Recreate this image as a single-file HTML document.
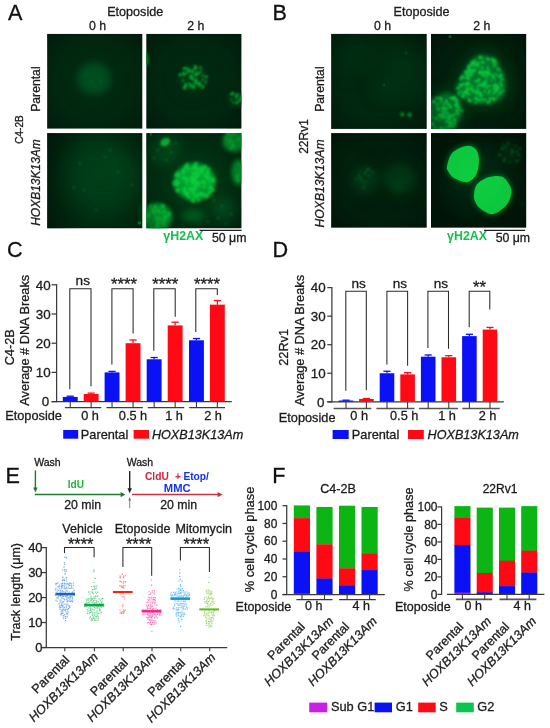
<!DOCTYPE html>
<html lang="en"><head><meta charset="utf-8"><title>Figure</title>
<style>
html,body{margin:0;padding:0;background:#fff;}
#fig{position:relative;width:550px;height:728px;background:#fff;overflow:hidden;}
svg{display:block;}
svg text{font-family:"Liberation Sans", sans-serif;}
</style></head><body>
<div id="fig">
<svg width="550" height="728" viewBox="0 0 550 728">
<defs>
<filter id="b1" x="-50%" y="-50%" width="200%" height="200%"><feGaussianBlur stdDeviation="1"/></filter>
<filter id="b05" x="-50%" y="-50%" width="200%" height="200%"><feGaussianBlur stdDeviation="0.6"/></filter>
<filter id="b2" x="-50%" y="-50%" width="200%" height="200%"><feGaussianBlur stdDeviation="2"/></filter>
<filter id="b3" x="-50%" y="-50%" width="200%" height="200%"><feGaussianBlur stdDeviation="3.5"/></filter>
<filter id="b6" x="-50%" y="-50%" width="200%" height="200%"><feGaussianBlur stdDeviation="6"/></filter>
<filter id="b10" x="-50%" y="-50%" width="200%" height="200%"><feGaussianBlur stdDeviation="10"/></filter>
<radialGradient id="vig" cx="50%" cy="50%" r="72%"><stop offset="0" stop-color="#000" stop-opacity="0"/><stop offset="0.55" stop-color="#000" stop-opacity="0.04"/><stop offset="1" stop-color="#000" stop-opacity="0.34"/></radialGradient>
<linearGradient id="ldark" x1="0" x2="1" y1="0" y2="0"><stop offset="0" stop-color="#000" stop-opacity="0.3"/><stop offset="1" stop-color="#000" stop-opacity="0"/></linearGradient>
</defs>
<g id="panelA">
<text x="8.00" y="19.90" font-size="21.6" fill="#111" stroke="#111" stroke-width="0.3" >A</text>
<text x="135.20" y="15.80" font-size="12.6" text-anchor="middle" fill="#1c1c1c" stroke="#1c1c1c" stroke-width="0.3" >Etoposide</text>
<text x="97.50" y="29.60" font-size="12.3" text-anchor="middle" fill="#1c1c1c" stroke="#1c1c1c" stroke-width="0.3" >0 h</text>
<text x="195.70" y="29.60" font-size="12.3" text-anchor="middle" fill="#1c1c1c" stroke="#1c1c1c" stroke-width="0.3" >2 h</text>
<text x="39.60" y="89.10" font-size="12.2" text-anchor="middle" fill="#1c1c1c" stroke="#1c1c1c" stroke-width="0.3" transform="rotate(-90 39.60 89.10)" >Parental</text>
<text x="39.60" y="182.50" font-size="12" text-anchor="middle" font-style="italic" fill="#1c1c1c" stroke="#1c1c1c" stroke-width="0.3" transform="rotate(-90 39.60 182.50)" >HOXB13K13Am</text>
<text x="23.00" y="129.50" font-size="10" text-anchor="middle" fill="#1c1c1c" stroke="#1c1c1c" stroke-width="0.3" transform="rotate(-90 23.00 129.50)" >C4-2B</text>
<clipPath id="mc1"><rect x="47.1" y="33.8" width="95.4" height="94.9"/></clipPath>
<g clip-path="url(#mc1)">
<rect x="47.10" y="33.80" width="95.40" height="94.90" fill="#012910" />
<circle cx="94.0" cy="79.0" r="24.0" fill="#023214" opacity="0.45" filter="url(#b6)"/>
<ellipse cx="94.0" cy="78.5" rx="16.5" ry="15.5" fill="#035220" opacity="0.85" filter="url(#b3)" transform="rotate(0 94.0 78.5)"/>
<g fill="#046e27" opacity="0.45" filter="url(#b1)">
<circle cx="92.1" cy="81.8" r="1.2"/>
<circle cx="101.2" cy="81.5" r="1.1"/>
<circle cx="101.3" cy="80.8" r="0.9"/>
<circle cx="91.3" cy="79.2" r="0.9"/>
<circle cx="85.1" cy="82.6" r="1.0"/>
<circle cx="95.5" cy="86.6" r="1.4"/>
<circle cx="87.9" cy="74.8" r="1.4"/>
</g>
<rect x="47.10" y="33.80" width="95.40" height="94.90" fill="url(#vig)" />
</g>
<clipPath id="mc2"><rect x="146.2" y="33.8" width="95.4" height="94.9"/></clipPath>
<g clip-path="url(#mc2)">
<rect x="146.20" y="33.80" width="95.40" height="94.90" fill="#012810" />
<circle cx="193.0" cy="79.0" r="20.0" fill="#012e12" opacity="0.45" filter="url(#b6)"/>
<ellipse cx="193.0" cy="78.5" rx="14.5" ry="13.0" fill="#023e18" opacity="0.8" filter="url(#b2)" transform="rotate(0 193.0 78.5)"/>
<g fill="#08c83c" opacity="0.8" filter="url(#b1)">
<circle cx="205.9" cy="82.0" r="1.2"/>
<circle cx="196.1" cy="82.0" r="1.2"/>
<circle cx="195.5" cy="73.4" r="1.3"/>
<circle cx="187.3" cy="72.4" r="1.3"/>
<circle cx="196.3" cy="79.7" r="1.1"/>
<circle cx="189.0" cy="70.8" r="1.2"/>
<circle cx="184.6" cy="74.0" r="1.2"/>
<circle cx="196.3" cy="68.1" r="1.1"/>
<circle cx="183.6" cy="74.3" r="1.5"/>
<circle cx="192.0" cy="71.6" r="1.6"/>
<circle cx="199.9" cy="84.2" r="1.5"/>
<circle cx="198.9" cy="85.9" r="1.0"/>
<circle cx="186.8" cy="68.6" r="1.3"/>
<circle cx="198.8" cy="73.4" r="1.4"/>
<circle cx="183.8" cy="73.0" r="1.3"/>
<circle cx="200.5" cy="67.8" r="1.3"/>
<circle cx="191.2" cy="75.8" r="1.4"/>
<circle cx="184.3" cy="68.2" r="1.5"/>
<circle cx="191.1" cy="86.4" r="1.4"/>
<circle cx="202.8" cy="79.7" r="1.1"/>
<circle cx="195.6" cy="80.6" r="1.5"/>
<circle cx="198.0" cy="83.2" r="1.2"/>
<circle cx="195.8" cy="75.8" r="1.3"/>
<circle cx="180.0" cy="74.8" r="1.5"/>
<circle cx="198.0" cy="73.3" r="1.2"/>
<circle cx="184.4" cy="88.0" r="1.6"/>
<circle cx="196.5" cy="82.9" r="1.1"/>
<circle cx="194.1" cy="87.5" r="1.4"/>
<circle cx="192.9" cy="79.3" r="1.3"/>
<circle cx="185.6" cy="85.7" r="1.6"/>
<circle cx="189.2" cy="69.8" r="1.4"/>
<circle cx="191.5" cy="75.8" r="1.5"/>
<circle cx="195.5" cy="66.6" r="1.5"/>
<circle cx="185.9" cy="83.6" r="1.1"/>
<circle cx="190.6" cy="76.1" r="1.0"/>
<circle cx="194.5" cy="83.6" r="1.2"/>
<circle cx="193.2" cy="78.6" r="1.1"/>
<circle cx="200.0" cy="83.2" r="1.0"/>
<circle cx="201.0" cy="71.3" r="1.1"/>
<circle cx="192.9" cy="86.2" r="1.2"/>
<circle cx="202.6" cy="86.9" r="1.6"/>
<circle cx="183.1" cy="80.4" r="1.1"/>
<circle cx="199.8" cy="83.1" r="1.2"/>
<circle cx="195.8" cy="73.9" r="1.0"/>
<circle cx="203.0" cy="75.6" r="1.1"/>
<circle cx="190.7" cy="77.9" r="1.3"/>
<circle cx="206.3" cy="76.9" r="1.4"/>
<circle cx="192.4" cy="86.4" r="1.1"/>
<circle cx="194.5" cy="69.1" r="1.5"/>
<circle cx="189.7" cy="83.9" r="1.5"/>
</g>
<circle cx="235.5" cy="100.0" r="8.0" fill="#023e18" opacity="0.8" filter="url(#b2)"/>
<g fill="#08c83c" opacity="0.8" filter="url(#b1)">
<circle cx="242.4" cy="99.3" r="1.5"/>
<circle cx="238.2" cy="94.1" r="1.1"/>
<circle cx="231.1" cy="99.5" r="1.0"/>
<circle cx="239.4" cy="100.7" r="1.2"/>
<circle cx="232.9" cy="93.1" r="1.3"/>
<circle cx="242.4" cy="97.1" r="1.6"/>
<circle cx="233.2" cy="102.6" r="1.1"/>
<circle cx="236.6" cy="103.2" r="1.4"/>
<circle cx="241.1" cy="96.0" r="1.3"/>
<circle cx="231.7" cy="94.5" r="1.1"/>
<circle cx="231.7" cy="93.9" r="1.5"/>
<circle cx="235.5" cy="94.8" r="1.1"/>
<circle cx="236.6" cy="95.8" r="1.5"/>
<circle cx="240.1" cy="99.2" r="1.2"/>
<circle cx="241.5" cy="97.9" r="1.1"/>
<circle cx="237.5" cy="102.1" r="1.5"/>
<circle cx="236.5" cy="97.3" r="1.5"/>
<circle cx="241.5" cy="99.2" r="1.2"/>
</g>
<ellipse cx="146.5" cy="59.5" rx="2.2" ry="7.0" fill="#06962d" opacity="0.9" filter="url(#b1)" transform="rotate(0 146.5 59.5)"/>
<rect x="146.20" y="33.80" width="95.40" height="94.90" fill="url(#vig)" />
</g>
<clipPath id="mc3"><rect x="47.1" y="133.1" width="95.4" height="95.3"/></clipPath>
<g clip-path="url(#mc3)">
<rect x="47.10" y="133.10" width="95.40" height="95.30" fill="#013013" />
<rect x="47" y="133" width="40" height="96" fill="url(#ldark)"/>
<circle cx="102.0" cy="174.0" r="36.0" fill="#02441b" opacity="0.7" filter="url(#b10)"/>
<circle cx="112.0" cy="168.0" r="18.0" fill="#02461c" opacity="0.3" filter="url(#b6)"/>
<circle cx="79.8" cy="163.2" r="1.4" fill="#047329" opacity="0.55" filter="url(#b1)"/>
<circle cx="73.8" cy="187.4" r="1.4" fill="#047329" opacity="0.55" filter="url(#b1)"/>
<circle cx="131.6" cy="184.8" r="1.4" fill="#047329" opacity="0.55" filter="url(#b1)"/>
<circle cx="104.9" cy="157.2" r="1.4" fill="#047329" opacity="0.55" filter="url(#b1)"/>
<circle cx="110.0" cy="150.0" r="1.4" fill="#047329" opacity="0.55" filter="url(#b1)"/>
<circle cx="118.0" cy="172.0" r="1.4" fill="#047329" opacity="0.55" filter="url(#b1)"/>
<circle cx="84.0" cy="190.0" r="1.4" fill="#047329" opacity="0.55" filter="url(#b1)"/>
<circle cx="96.0" cy="210.0" r="1.4" fill="#047329" opacity="0.55" filter="url(#b1)"/>
<circle cx="139.4" cy="223.0" r="1.8" fill="#06aa33" opacity="0.9" filter="url(#b05)"/>
<ellipse cx="140.2" cy="212.0" rx="1.0" ry="10.0" fill="#04782b" opacity="0.5" filter="url(#b1)" transform="rotate(0 140.2 212.0)"/>
<rect x="47.10" y="133.10" width="95.40" height="95.30" fill="url(#vig)" />
</g>
<clipPath id="mc4"><rect x="146.2" y="133.1" width="95.4" height="95.3"/></clipPath>
<g clip-path="url(#mc4)">
<rect x="146.20" y="133.10" width="95.40" height="95.30" fill="#012e12" />
<circle cx="195.0" cy="182.0" r="30.0" fill="#024019" opacity="0.45" filter="url(#b6)"/>
<circle cx="164.0" cy="148.0" r="17.0" fill="#034e1f" opacity="0.8" filter="url(#b6)"/>
<ellipse cx="193.5" cy="216.0" rx="12.0" ry="7.0" fill="#046424" opacity="0.8" filter="url(#b3)" transform="rotate(0 193.5 216.0)"/>
<circle cx="224.0" cy="210.0" r="13.0" fill="#035220" opacity="0.75" filter="url(#b6)"/>
<ellipse cx="194.8" cy="181.8" rx="20.6" ry="18.8" fill="#06ac33" opacity="0.95" filter="url(#b2)" transform="rotate(0 194.8 181.8)"/>
<g fill="#09e444" opacity="0.6" filter="url(#b1)">
<circle cx="187.7" cy="179.7" r="1.4"/>
<circle cx="211.0" cy="179.0" r="2.0"/>
<circle cx="207.1" cy="176.7" r="2.4"/>
<circle cx="199.1" cy="174.1" r="1.7"/>
<circle cx="192.1" cy="190.8" r="2.1"/>
<circle cx="194.0" cy="194.1" r="1.6"/>
<circle cx="205.1" cy="175.7" r="1.9"/>
<circle cx="177.9" cy="172.8" r="1.9"/>
<circle cx="207.4" cy="175.1" r="2.0"/>
<circle cx="192.0" cy="181.4" r="1.9"/>
<circle cx="195.3" cy="182.9" r="2.4"/>
<circle cx="201.4" cy="193.3" r="2.3"/>
<circle cx="183.8" cy="178.0" r="2.0"/>
<circle cx="177.7" cy="176.1" r="1.5"/>
<circle cx="185.3" cy="178.3" r="1.7"/>
<circle cx="196.8" cy="168.4" r="2.1"/>
<circle cx="196.0" cy="163.7" r="1.9"/>
<circle cx="183.7" cy="173.0" r="2.0"/>
<circle cx="189.9" cy="169.8" r="2.0"/>
<circle cx="175.1" cy="184.3" r="2.2"/>
<circle cx="209.0" cy="168.9" r="1.7"/>
<circle cx="176.3" cy="175.1" r="2.4"/>
<circle cx="199.5" cy="186.8" r="1.9"/>
<circle cx="203.8" cy="185.9" r="1.5"/>
<circle cx="186.0" cy="167.1" r="2.5"/>
<circle cx="204.6" cy="195.1" r="2.2"/>
<circle cx="206.8" cy="195.8" r="2.6"/>
<circle cx="198.6" cy="200.0" r="1.9"/>
<circle cx="174.5" cy="183.3" r="2.4"/>
<circle cx="201.9" cy="192.4" r="2.0"/>
<circle cx="190.0" cy="188.9" r="1.8"/>
<circle cx="194.3" cy="179.2" r="2.1"/>
<circle cx="192.2" cy="182.7" r="1.8"/>
<circle cx="184.4" cy="172.2" r="1.5"/>
<circle cx="212.9" cy="180.2" r="2.6"/>
<circle cx="203.2" cy="187.8" r="1.4"/>
<circle cx="196.7" cy="172.1" r="1.6"/>
<circle cx="177.5" cy="190.3" r="2.4"/>
<circle cx="194.4" cy="189.1" r="2.5"/>
<circle cx="179.3" cy="175.0" r="1.5"/>
<circle cx="210.7" cy="187.4" r="1.9"/>
<circle cx="212.6" cy="189.9" r="2.2"/>
<circle cx="196.7" cy="176.6" r="2.4"/>
<circle cx="212.2" cy="189.0" r="1.9"/>
<circle cx="186.7" cy="193.8" r="2.5"/>
<circle cx="194.0" cy="188.6" r="2.0"/>
<circle cx="195.3" cy="188.1" r="1.6"/>
<circle cx="203.6" cy="184.5" r="1.8"/>
<circle cx="188.7" cy="197.4" r="1.7"/>
<circle cx="186.2" cy="181.8" r="1.8"/>
<circle cx="205.0" cy="182.9" r="1.4"/>
<circle cx="193.2" cy="167.8" r="1.6"/>
<circle cx="175.2" cy="184.7" r="1.5"/>
<circle cx="200.5" cy="170.5" r="2.0"/>
<circle cx="201.3" cy="171.5" r="2.0"/>
<circle cx="187.1" cy="164.4" r="1.8"/>
<circle cx="203.3" cy="167.9" r="2.2"/>
<circle cx="184.8" cy="188.1" r="1.5"/>
<circle cx="198.5" cy="185.5" r="2.3"/>
<circle cx="194.5" cy="189.5" r="1.5"/>
<circle cx="205.2" cy="166.9" r="2.2"/>
<circle cx="192.8" cy="191.0" r="1.8"/>
<circle cx="186.9" cy="183.7" r="1.9"/>
<circle cx="193.1" cy="200.4" r="2.6"/>
<circle cx="185.1" cy="179.1" r="2.6"/>
<circle cx="190.3" cy="192.4" r="1.4"/>
<circle cx="184.4" cy="190.7" r="2.0"/>
<circle cx="199.2" cy="194.7" r="1.4"/>
<circle cx="194.3" cy="187.5" r="1.9"/>
<circle cx="197.8" cy="182.5" r="1.8"/>
<circle cx="196.5" cy="196.3" r="2.0"/>
<circle cx="194.9" cy="166.4" r="2.3"/>
<circle cx="204.1" cy="173.6" r="1.8"/>
<circle cx="202.7" cy="181.1" r="2.3"/>
<circle cx="192.1" cy="178.7" r="2.4"/>
<circle cx="207.4" cy="172.3" r="2.3"/>
<circle cx="197.7" cy="175.2" r="2.0"/>
<circle cx="176.1" cy="181.3" r="2.4"/>
<circle cx="202.0" cy="168.9" r="2.5"/>
<circle cx="187.8" cy="167.4" r="1.7"/>
<circle cx="202.1" cy="183.1" r="1.8"/>
<circle cx="209.6" cy="192.4" r="2.1"/>
<circle cx="183.5" cy="171.0" r="2.2"/>
<circle cx="193.6" cy="181.9" r="2.4"/>
<circle cx="194.6" cy="168.3" r="2.0"/>
<circle cx="192.0" cy="177.7" r="2.3"/>
<circle cx="194.7" cy="187.0" r="1.7"/>
<circle cx="193.6" cy="173.3" r="2.3"/>
<circle cx="209.0" cy="179.8" r="1.9"/>
<circle cx="178.0" cy="183.9" r="2.3"/>
</g>
<g fill="#046e27" opacity="0.5" filter="url(#b1)">
<circle cx="185.3" cy="173.7" r="1.1"/>
<circle cx="199.6" cy="187.8" r="1.6"/>
<circle cx="190.8" cy="192.4" r="1.0"/>
<circle cx="202.5" cy="184.7" r="1.5"/>
<circle cx="190.1" cy="170.3" r="1.2"/>
<circle cx="184.0" cy="180.7" r="1.4"/>
<circle cx="205.9" cy="191.4" r="1.2"/>
<circle cx="210.1" cy="179.8" r="1.0"/>
<circle cx="180.8" cy="185.3" r="1.8"/>
<circle cx="186.9" cy="184.2" r="1.2"/>
<circle cx="201.7" cy="179.5" r="1.5"/>
<circle cx="202.1" cy="190.2" r="1.8"/>
<circle cx="204.5" cy="191.9" r="1.4"/>
<circle cx="205.0" cy="173.6" r="1.2"/>
</g>
<ellipse cx="165.2" cy="142.0" rx="5.2" ry="4.0" fill="#08c83c" opacity="0.95" filter="url(#b1)" transform="rotate(-30 165.2 142.0)"/>
<circle cx="151.0" cy="134.2" r="1.2" fill="#06aa33" opacity="0.8" filter="url(#b05)"/>
<circle cx="158.0" cy="150.0" r="1.5" fill="#057d2d" opacity="0.6" filter="url(#b1)"/>
<circle cx="171.0" cy="152.0" r="1.5" fill="#057d2d" opacity="0.6" filter="url(#b1)"/>
<circle cx="176.0" cy="143.0" r="1.5" fill="#057d2d" opacity="0.6" filter="url(#b1)"/>
<circle cx="154.0" cy="158.0" r="1.5" fill="#057d2d" opacity="0.6" filter="url(#b1)"/>
<circle cx="166.0" cy="160.0" r="1.5" fill="#057d2d" opacity="0.6" filter="url(#b1)"/>
<ellipse cx="234.5" cy="140.5" rx="12.0" ry="11.0" fill="#06aa33" opacity="0.9" filter="url(#b2)" transform="rotate(0 234.5 140.5)"/>
<g fill="#08d740" opacity="0.6" filter="url(#b1)">
<circle cx="240.1" cy="136.3" r="1.2"/>
<circle cx="241.5" cy="140.7" r="1.7"/>
<circle cx="233.3" cy="144.1" r="1.5"/>
<circle cx="230.8" cy="148.9" r="1.2"/>
<circle cx="234.5" cy="131.3" r="1.3"/>
<circle cx="242.1" cy="136.7" r="2.1"/>
<circle cx="233.0" cy="146.4" r="1.6"/>
<circle cx="242.2" cy="140.4" r="1.6"/>
<circle cx="229.8" cy="142.8" r="1.2"/>
<circle cx="241.8" cy="145.9" r="1.5"/>
<circle cx="239.1" cy="138.5" r="1.5"/>
<circle cx="230.2" cy="140.2" r="1.6"/>
<circle cx="243.5" cy="137.9" r="2.0"/>
<circle cx="228.0" cy="133.5" r="2.1"/>
<circle cx="226.4" cy="137.9" r="1.2"/>
<circle cx="233.8" cy="133.8" r="2.0"/>
<circle cx="231.2" cy="136.3" r="1.2"/>
<circle cx="237.7" cy="138.9" r="1.7"/>
</g>
<ellipse cx="238.5" cy="172.0" rx="7.0" ry="13.0" fill="#069b2e" opacity="0.85" filter="url(#b2)" transform="rotate(0 238.5 172.0)"/>
<g fill="#08c83c" opacity="0.55" filter="url(#b1)">
<circle cx="237.0" cy="177.0" r="1.7"/>
<circle cx="241.0" cy="171.2" r="1.7"/>
<circle cx="237.3" cy="179.8" r="1.4"/>
<circle cx="239.5" cy="175.8" r="1.2"/>
<circle cx="241.4" cy="167.7" r="1.2"/>
<circle cx="242.7" cy="165.9" r="1.4"/>
<circle cx="239.9" cy="175.7" r="1.1"/>
<circle cx="237.7" cy="174.8" r="1.2"/>
<circle cx="238.3" cy="180.3" r="1.9"/>
<circle cx="238.5" cy="164.9" r="1.4"/>
</g>
<ellipse cx="157.0" cy="217.5" rx="15.0" ry="14.5" fill="#06a531" opacity="0.9" filter="url(#b2)" transform="rotate(0 157.0 217.5)"/>
<g fill="#08d740" opacity="0.6" filter="url(#b1)">
<circle cx="148.8" cy="216.2" r="1.6"/>
<circle cx="163.6" cy="220.2" r="2.4"/>
<circle cx="163.7" cy="224.3" r="2.0"/>
<circle cx="161.1" cy="212.7" r="1.5"/>
<circle cx="157.1" cy="226.0" r="1.7"/>
<circle cx="168.9" cy="214.0" r="2.2"/>
<circle cx="159.4" cy="217.8" r="2.1"/>
<circle cx="164.4" cy="211.8" r="1.9"/>
<circle cx="165.4" cy="217.5" r="2.3"/>
<circle cx="162.7" cy="206.4" r="2.4"/>
<circle cx="157.0" cy="222.0" r="1.4"/>
<circle cx="146.0" cy="215.9" r="2.3"/>
<circle cx="155.1" cy="206.8" r="2.1"/>
<circle cx="147.3" cy="220.2" r="1.2"/>
<circle cx="158.3" cy="211.1" r="2.3"/>
<circle cx="152.5" cy="211.6" r="1.4"/>
<circle cx="156.9" cy="228.3" r="2.0"/>
<circle cx="159.7" cy="219.8" r="1.8"/>
<circle cx="149.7" cy="213.3" r="1.5"/>
<circle cx="155.9" cy="216.7" r="1.6"/>
<circle cx="144.2" cy="220.7" r="2.0"/>
<circle cx="163.9" cy="211.3" r="1.5"/>
<circle cx="157.2" cy="230.7" r="2.0"/>
<circle cx="156.3" cy="219.4" r="1.8"/>
<circle cx="153.0" cy="209.7" r="1.5"/>
<circle cx="150.6" cy="206.2" r="1.5"/>
<circle cx="164.7" cy="219.2" r="1.7"/>
<circle cx="154.5" cy="212.0" r="2.2"/>
<circle cx="156.3" cy="207.9" r="1.4"/>
<circle cx="164.4" cy="216.1" r="2.2"/>
<circle cx="157.8" cy="223.8" r="2.1"/>
<circle cx="153.3" cy="230.2" r="1.8"/>
<circle cx="159.4" cy="223.4" r="1.7"/>
<circle cx="150.3" cy="206.2" r="1.4"/>
</g>
<circle cx="214.0" cy="200.0" r="1.6" fill="#05822e" opacity="0.55" filter="url(#b1)"/>
<circle cx="222.0" cy="206.0" r="1.6" fill="#05822e" opacity="0.55" filter="url(#b1)"/>
<circle cx="231.0" cy="214.0" r="1.6" fill="#05822e" opacity="0.55" filter="url(#b1)"/>
<circle cx="218.0" cy="218.0" r="1.6" fill="#05822e" opacity="0.55" filter="url(#b1)"/>
<circle cx="208.0" cy="222.0" r="1.6" fill="#05822e" opacity="0.55" filter="url(#b1)"/>
<circle cx="226.0" cy="224.0" r="1.6" fill="#05822e" opacity="0.55" filter="url(#b1)"/>
<rect x="146.20" y="133.10" width="95.40" height="95.30" fill="url(#vig)" />
</g>
<text x="203.30" y="240.00" font-size="12.4" text-anchor="end" font-weight="bold" fill="#10c24c" >γH2AX</text>
<line x1="199.50" y1="230.40" x2="241.60" y2="230.40" stroke="#222" stroke-width="1.2" />
<text x="229.20" y="241.60" font-size="12.3" text-anchor="middle" fill="#1c1c1c" stroke="#1c1c1c" stroke-width="0.3" >50 μm</text>
</g>
<g id="panelB">
<text x="272.50" y="19.90" font-size="21.6" fill="#111" stroke="#111" stroke-width="0.3" >B</text>
<text x="421.50" y="15.80" font-size="12.6" text-anchor="middle" fill="#1c1c1c" stroke="#1c1c1c" stroke-width="0.3" >Etoposide</text>
<text x="382.50" y="29.60" font-size="12.3" text-anchor="middle" fill="#1c1c1c" stroke="#1c1c1c" stroke-width="0.3" >0 h</text>
<text x="481.70" y="29.60" font-size="12.3" text-anchor="middle" fill="#1c1c1c" stroke="#1c1c1c" stroke-width="0.3" >2 h</text>
<text x="323.80" y="89.10" font-size="12.2" text-anchor="middle" fill="#1c1c1c" stroke="#1c1c1c" stroke-width="0.3" transform="rotate(-90 323.80 89.10)" >Parental</text>
<text x="323.80" y="183.50" font-size="12.2" text-anchor="middle" font-style="italic" fill="#1c1c1c" stroke="#1c1c1c" stroke-width="0.3" transform="rotate(-90 323.80 183.50)" >HOXB13K13Am</text>
<text x="308.00" y="136.50" font-size="12" text-anchor="middle" fill="#1c1c1c" stroke="#1c1c1c" stroke-width="0.3" transform="rotate(-90 308.00 136.50)" >22Rv1</text>
<clipPath id="mc5"><rect x="331.1" y="33.8" width="95.7" height="95.1"/></clipPath>
<g clip-path="url(#mc5)">
<rect x="331.10" y="33.80" width="95.70" height="95.10" fill="#012810" />
<circle cx="403.0" cy="72.0" r="28.0" fill="#023816" opacity="0.55" filter="url(#b10)"/>
<circle cx="352.0" cy="52.0" r="22.0" fill="#023816" opacity="0.45" filter="url(#b10)"/>
<circle cx="384.0" cy="92.0" r="14.0" fill="#023816" opacity="0.3" filter="url(#b6)"/>
<circle cx="402.4" cy="114.4" r="2.2" fill="#06962d" opacity="0.9" filter="url(#b1)"/>
<circle cx="409.6" cy="114.9" r="2.4" fill="#06962d" opacity="0.9" filter="url(#b1)"/>
<circle cx="384.0" cy="85.0" r="1.2" fill="#046e27" opacity="0.5" filter="url(#b05)"/>
<circle cx="406.0" cy="53.0" r="1.5" fill="#046424" opacity="0.4" filter="url(#b05)"/>
<rect x="331.10" y="33.80" width="95.70" height="95.10" fill="url(#vig)" />
</g>
<clipPath id="mc6"><rect x="431.0" y="33.8" width="95.4" height="95.1"/></clipPath>
<g clip-path="url(#mc6)">
<rect x="431.00" y="33.80" width="95.40" height="95.10" fill="#011f0c" />
<path d="M456.0 87.5 C457.0 84.3 460.3 78.5 463.0 73.7 C465.7 69.0 469.1 62.2 472.4 59.0 C475.7 55.8 479.1 54.7 482.8 54.7 C486.6 54.7 491.7 56.4 494.9 59.0 C498.1 61.6 499.9 66.1 501.8 70.3 C503.7 74.5 506.0 79.8 506.1 84.1 C506.2 88.4 505.1 93.0 502.7 96.2 C500.2 99.4 495.9 101.9 491.4 103.1 C486.9 104.2 480.8 103.8 475.9 103.1 C471.0 102.4 465.3 100.5 462.1 98.8 C458.9 97.1 457.9 94.6 456.9 92.7 C455.9 90.8 455.0 90.7 456.0 87.5Z" fill="#023c18" opacity="0.7" filter="url(#b6)" stroke="#023c18" stroke-width="14"/>
<path d="M448.3 92.7 C451.8 93.3 456.3 96.7 458.6 99.6 C460.9 102.5 462.1 106.2 462.1 110.0 C462.1 113.8 460.3 118.6 458.6 122.1 C456.9 125.6 456.6 129.5 451.7 131.0 C446.8 132.5 432.8 135.7 429.0 131.0 C425.2 126.3 427.5 108.9 429.0 103.1 C430.5 97.3 434.7 97.9 437.9 96.2 C441.1 94.5 444.9 92.1 448.3 92.7Z" fill="#023c18" opacity="0.7" filter="url(#b6)" stroke="#023c18" stroke-width="12"/>
<path d="M456.0 87.5 C457.0 84.3 460.3 78.5 463.0 73.7 C465.7 69.0 469.1 62.2 472.4 59.0 C475.7 55.8 479.1 54.7 482.8 54.7 C486.6 54.7 491.7 56.4 494.9 59.0 C498.1 61.6 499.9 66.1 501.8 70.3 C503.7 74.5 506.0 79.8 506.1 84.1 C506.2 88.4 505.1 93.0 502.7 96.2 C500.2 99.4 495.9 101.9 491.4 103.1 C486.9 104.2 480.8 103.8 475.9 103.1 C471.0 102.4 465.3 100.5 462.1 98.8 C458.9 97.1 457.9 94.6 456.9 92.7 C455.9 90.8 455.0 90.7 456.0 87.5Z" fill="#047429" opacity="0.92" filter="url(#b2)"/>
<g fill="#09e444" opacity="0.7" filter="url(#b1)">
<circle cx="475.7" cy="65.0" r="2.0"/>
<circle cx="489.3" cy="73.0" r="1.4"/>
<circle cx="472.6" cy="62.9" r="1.0"/>
<circle cx="470.0" cy="71.7" r="2.0"/>
<circle cx="466.4" cy="72.0" r="1.8"/>
<circle cx="497.2" cy="75.6" r="1.0"/>
<circle cx="479.7" cy="72.7" r="1.9"/>
<circle cx="465.7" cy="72.3" r="1.9"/>
<circle cx="496.7" cy="91.8" r="1.0"/>
<circle cx="493.4" cy="98.2" r="1.3"/>
<circle cx="469.6" cy="101.1" r="1.6"/>
<circle cx="469.1" cy="89.4" r="1.3"/>
<circle cx="493.9" cy="99.1" r="1.6"/>
<circle cx="467.7" cy="77.7" r="2.0"/>
<circle cx="468.6" cy="75.5" r="1.5"/>
<circle cx="496.2" cy="90.4" r="1.8"/>
<circle cx="494.7" cy="84.1" r="1.3"/>
<circle cx="472.0" cy="72.2" r="1.8"/>
<circle cx="493.7" cy="66.7" r="1.1"/>
<circle cx="460.8" cy="78.8" r="1.7"/>
<circle cx="478.4" cy="66.0" r="1.4"/>
<circle cx="487.1" cy="87.3" r="1.7"/>
<circle cx="498.4" cy="86.9" r="1.1"/>
<circle cx="498.1" cy="68.9" r="1.6"/>
<circle cx="474.7" cy="90.4" r="1.2"/>
<circle cx="468.4" cy="66.6" r="1.2"/>
<circle cx="500.3" cy="82.7" r="1.3"/>
<circle cx="475.8" cy="102.7" r="1.5"/>
<circle cx="467.6" cy="93.8" r="1.7"/>
<circle cx="479.8" cy="94.3" r="1.8"/>
<circle cx="485.2" cy="99.7" r="1.4"/>
<circle cx="499.4" cy="76.4" r="1.3"/>
<circle cx="495.0" cy="100.5" r="1.1"/>
<circle cx="485.9" cy="84.7" r="1.2"/>
<circle cx="474.5" cy="61.5" r="1.2"/>
<circle cx="468.8" cy="83.7" r="1.7"/>
<circle cx="472.4" cy="87.5" r="1.2"/>
<circle cx="471.6" cy="64.5" r="1.8"/>
<circle cx="483.5" cy="57.8" r="1.1"/>
<circle cx="475.8" cy="81.3" r="1.6"/>
<circle cx="490.8" cy="74.5" r="1.3"/>
<circle cx="471.4" cy="100.8" r="1.3"/>
<circle cx="484.4" cy="72.0" r="1.4"/>
<circle cx="474.2" cy="64.2" r="1.7"/>
<circle cx="501.2" cy="75.2" r="1.8"/>
<circle cx="476.4" cy="97.4" r="1.5"/>
<circle cx="483.6" cy="85.7" r="1.9"/>
<circle cx="460.5" cy="84.8" r="1.4"/>
<circle cx="481.3" cy="61.8" r="1.3"/>
<circle cx="482.1" cy="99.5" r="1.1"/>
<circle cx="480.6" cy="93.7" r="2.0"/>
<circle cx="480.2" cy="57.3" r="1.9"/>
<circle cx="475.4" cy="98.5" r="1.6"/>
<circle cx="495.4" cy="65.4" r="1.4"/>
<circle cx="498.4" cy="94.8" r="1.2"/>
<circle cx="466.9" cy="74.0" r="1.5"/>
<circle cx="475.2" cy="60.7" r="1.2"/>
<circle cx="492.3" cy="98.1" r="1.0"/>
<circle cx="484.2" cy="91.4" r="1.0"/>
<circle cx="486.0" cy="81.3" r="1.6"/>
<circle cx="471.3" cy="75.0" r="1.6"/>
<circle cx="477.3" cy="86.6" r="1.4"/>
<circle cx="487.0" cy="78.4" r="1.2"/>
<circle cx="494.3" cy="92.5" r="1.5"/>
<circle cx="465.0" cy="77.6" r="1.1"/>
<circle cx="462.4" cy="75.5" r="1.1"/>
<circle cx="478.1" cy="79.4" r="1.0"/>
<circle cx="487.9" cy="58.7" r="1.7"/>
<circle cx="495.0" cy="79.5" r="1.1"/>
<circle cx="481.2" cy="73.0" r="2.0"/>
<circle cx="462.8" cy="96.2" r="2.0"/>
<circle cx="492.7" cy="94.1" r="1.2"/>
<circle cx="464.3" cy="92.9" r="1.9"/>
<circle cx="493.9" cy="62.4" r="1.9"/>
<circle cx="469.8" cy="94.2" r="1.1"/>
<circle cx="481.2" cy="99.2" r="1.2"/>
<circle cx="469.2" cy="79.2" r="1.3"/>
<circle cx="490.1" cy="98.0" r="1.2"/>
<circle cx="495.3" cy="60.3" r="1.5"/>
<circle cx="487.9" cy="72.1" r="1.9"/>
<circle cx="483.8" cy="82.8" r="1.9"/>
<circle cx="487.6" cy="73.8" r="1.8"/>
<circle cx="484.9" cy="72.1" r="1.8"/>
<circle cx="478.2" cy="63.3" r="1.7"/>
<circle cx="458.4" cy="94.4" r="1.3"/>
<circle cx="488.0" cy="102.3" r="1.6"/>
<circle cx="489.3" cy="69.8" r="1.0"/>
<circle cx="486.9" cy="75.6" r="1.5"/>
<circle cx="467.4" cy="86.3" r="1.0"/>
<circle cx="467.2" cy="82.9" r="1.6"/>
<circle cx="466.2" cy="84.9" r="1.5"/>
<circle cx="460.8" cy="85.6" r="1.9"/>
<circle cx="495.2" cy="74.2" r="1.3"/>
<circle cx="484.2" cy="71.7" r="1.6"/>
<circle cx="478.2" cy="100.1" r="1.7"/>
<circle cx="468.4" cy="98.4" r="1.0"/>
<circle cx="482.6" cy="74.3" r="1.2"/>
<circle cx="458.9" cy="92.4" r="1.0"/>
<circle cx="483.6" cy="100.2" r="1.1"/>
<circle cx="466.0" cy="84.1" r="1.5"/>
<circle cx="488.1" cy="94.1" r="1.2"/>
<circle cx="471.5" cy="69.2" r="1.0"/>
<circle cx="500.6" cy="92.6" r="1.7"/>
<circle cx="493.3" cy="77.2" r="1.7"/>
<circle cx="478.7" cy="65.6" r="1.1"/>
<circle cx="472.8" cy="91.0" r="1.7"/>
<circle cx="498.4" cy="89.1" r="1.3"/>
<circle cx="483.7" cy="75.8" r="1.8"/>
<circle cx="482.2" cy="67.5" r="1.6"/>
<circle cx="469.0" cy="66.1" r="1.7"/>
<circle cx="503.3" cy="90.8" r="1.3"/>
<circle cx="500.1" cy="70.6" r="1.2"/>
<circle cx="501.5" cy="85.2" r="1.7"/>
<circle cx="489.3" cy="102.1" r="1.5"/>
<circle cx="498.1" cy="88.5" r="1.9"/>
<circle cx="477.9" cy="89.8" r="1.6"/>
<circle cx="471.4" cy="65.0" r="1.6"/>
<circle cx="473.3" cy="61.6" r="1.0"/>
<circle cx="458.1" cy="88.2" r="1.6"/>
<circle cx="490.9" cy="90.4" r="1.1"/>
<circle cx="485.6" cy="72.3" r="1.8"/>
<circle cx="497.1" cy="97.8" r="1.1"/>
<circle cx="496.7" cy="85.4" r="1.8"/>
<circle cx="487.6" cy="68.6" r="1.1"/>
<circle cx="460.9" cy="91.4" r="1.2"/>
<circle cx="472.0" cy="75.2" r="1.0"/>
<circle cx="468.9" cy="68.4" r="1.7"/>
<circle cx="474.4" cy="70.2" r="2.0"/>
<circle cx="481.2" cy="95.9" r="1.6"/>
<circle cx="477.9" cy="92.1" r="1.3"/>
<circle cx="491.3" cy="80.7" r="1.2"/>
<circle cx="497.1" cy="62.9" r="1.0"/>
<circle cx="466.1" cy="91.6" r="2.0"/>
<circle cx="480.6" cy="93.3" r="1.2"/>
<circle cx="480.8" cy="71.5" r="1.8"/>
<circle cx="469.1" cy="100.4" r="1.3"/>
<circle cx="466.8" cy="88.6" r="1.5"/>
<circle cx="461.5" cy="85.5" r="1.1"/>
<circle cx="495.5" cy="88.4" r="1.8"/>
<circle cx="487.5" cy="71.9" r="1.4"/>
<circle cx="475.8" cy="97.8" r="1.1"/>
<circle cx="501.2" cy="79.0" r="1.4"/>
<circle cx="479.1" cy="80.4" r="1.8"/>
<circle cx="493.7" cy="86.0" r="1.3"/>
<circle cx="472.4" cy="62.2" r="1.8"/>
<circle cx="489.2" cy="90.6" r="1.2"/>
<circle cx="478.0" cy="92.1" r="1.6"/>
<circle cx="462.3" cy="77.1" r="1.9"/>
<circle cx="471.1" cy="88.7" r="1.8"/>
<circle cx="468.4" cy="70.5" r="1.5"/>
<circle cx="492.5" cy="59.6" r="2.0"/>
<circle cx="492.7" cy="75.8" r="1.2"/>
<circle cx="488.0" cy="59.9" r="1.2"/>
<circle cx="476.0" cy="93.0" r="1.7"/>
<circle cx="481.1" cy="85.3" r="1.5"/>
<circle cx="463.1" cy="83.9" r="1.4"/>
<circle cx="493.1" cy="98.6" r="1.4"/>
<circle cx="484.8" cy="91.0" r="1.4"/>
<circle cx="467.5" cy="89.7" r="1.9"/>
<circle cx="494.8" cy="88.6" r="1.9"/>
<circle cx="490.0" cy="85.8" r="1.5"/>
<circle cx="471.7" cy="85.1" r="1.1"/>
<circle cx="477.0" cy="92.6" r="1.7"/>
<circle cx="487.5" cy="66.8" r="1.4"/>
<circle cx="478.8" cy="84.8" r="1.4"/>
<circle cx="489.8" cy="99.7" r="1.2"/>
<circle cx="488.8" cy="92.4" r="1.4"/>
<circle cx="480.5" cy="101.9" r="1.0"/>
<circle cx="483.2" cy="62.5" r="1.8"/>
<circle cx="503.1" cy="79.8" r="1.1"/>
</g>
<path d="M448.3 92.7 C451.8 93.3 456.3 96.7 458.6 99.6 C460.9 102.5 462.1 106.2 462.1 110.0 C462.1 113.8 460.3 118.6 458.6 122.1 C456.9 125.6 456.6 129.5 451.7 131.0 C446.8 132.5 432.8 135.7 429.0 131.0 C425.2 126.3 427.5 108.9 429.0 103.1 C430.5 97.3 434.7 97.9 437.9 96.2 C441.1 94.5 444.9 92.1 448.3 92.7Z" fill="#047429" opacity="0.92" filter="url(#b2)"/>
<g fill="#09e444" opacity="0.7" filter="url(#b1)">
<circle cx="448.0" cy="113.4" r="1.7"/>
<circle cx="446.0" cy="117.2" r="1.8"/>
<circle cx="446.3" cy="108.4" r="1.9"/>
<circle cx="436.0" cy="118.9" r="1.4"/>
<circle cx="454.2" cy="97.4" r="2.0"/>
<circle cx="438.1" cy="108.0" r="1.0"/>
<circle cx="442.9" cy="108.8" r="1.7"/>
<circle cx="440.7" cy="102.9" r="1.2"/>
<circle cx="446.4" cy="101.1" r="1.8"/>
<circle cx="442.0" cy="100.8" r="1.1"/>
<circle cx="454.7" cy="123.7" r="1.6"/>
<circle cx="444.5" cy="114.2" r="1.2"/>
<circle cx="450.1" cy="124.1" r="1.8"/>
<circle cx="444.5" cy="104.0" r="1.5"/>
<circle cx="433.1" cy="124.6" r="1.4"/>
<circle cx="457.2" cy="102.9" r="1.4"/>
<circle cx="437.4" cy="109.0" r="1.2"/>
<circle cx="429.1" cy="120.3" r="1.3"/>
<circle cx="437.1" cy="104.3" r="1.5"/>
<circle cx="443.2" cy="117.1" r="1.7"/>
<circle cx="441.0" cy="128.3" r="1.9"/>
<circle cx="430.9" cy="124.4" r="1.9"/>
<circle cx="455.0" cy="98.1" r="1.8"/>
<circle cx="429.4" cy="129.2" r="1.7"/>
<circle cx="433.7" cy="101.6" r="1.8"/>
<circle cx="440.5" cy="98.5" r="1.9"/>
<circle cx="455.2" cy="99.1" r="1.9"/>
<circle cx="449.1" cy="122.6" r="1.7"/>
<circle cx="456.8" cy="100.3" r="1.7"/>
<circle cx="446.6" cy="121.1" r="1.4"/>
<circle cx="458.2" cy="114.0" r="1.3"/>
<circle cx="436.8" cy="98.0" r="1.5"/>
<circle cx="430.9" cy="110.6" r="1.1"/>
<circle cx="445.3" cy="111.8" r="1.5"/>
<circle cx="456.8" cy="110.6" r="1.6"/>
<circle cx="451.0" cy="124.9" r="1.4"/>
<circle cx="442.9" cy="129.5" r="1.1"/>
<circle cx="450.1" cy="117.1" r="1.0"/>
<circle cx="449.2" cy="118.8" r="1.9"/>
<circle cx="439.9" cy="130.3" r="1.5"/>
<circle cx="445.0" cy="127.1" r="1.0"/>
<circle cx="452.8" cy="116.6" r="1.3"/>
<circle cx="457.5" cy="106.7" r="1.5"/>
<circle cx="446.4" cy="122.2" r="1.2"/>
<circle cx="443.4" cy="108.9" r="1.6"/>
<circle cx="456.4" cy="103.9" r="1.8"/>
<circle cx="442.4" cy="112.0" r="1.3"/>
<circle cx="445.8" cy="130.0" r="1.7"/>
<circle cx="455.2" cy="105.4" r="1.3"/>
<circle cx="438.9" cy="115.2" r="1.6"/>
<circle cx="452.9" cy="126.6" r="1.5"/>
<circle cx="430.6" cy="104.2" r="1.0"/>
<circle cx="435.3" cy="128.0" r="1.6"/>
<circle cx="450.8" cy="122.9" r="1.9"/>
<circle cx="449.2" cy="116.3" r="1.6"/>
<circle cx="452.1" cy="115.5" r="1.7"/>
<circle cx="436.0" cy="118.2" r="1.5"/>
<circle cx="450.7" cy="106.8" r="1.8"/>
<circle cx="455.0" cy="114.2" r="1.3"/>
<circle cx="439.0" cy="108.9" r="1.3"/>
<circle cx="443.3" cy="117.3" r="1.9"/>
<circle cx="430.8" cy="114.4" r="1.0"/>
<circle cx="432.9" cy="123.7" r="1.6"/>
<circle cx="459.4" cy="109.8" r="1.0"/>
<circle cx="441.8" cy="115.4" r="1.9"/>
<circle cx="461.5" cy="110.9" r="1.4"/>
<circle cx="432.4" cy="117.4" r="1.2"/>
<circle cx="429.2" cy="118.9" r="1.1"/>
<circle cx="429.6" cy="120.3" r="1.2"/>
<circle cx="453.3" cy="99.9" r="1.1"/>
<circle cx="454.6" cy="120.0" r="1.9"/>
<circle cx="449.8" cy="119.9" r="1.5"/>
<circle cx="450.5" cy="124.0" r="1.1"/>
<circle cx="439.3" cy="120.6" r="1.2"/>
<circle cx="457.5" cy="111.3" r="1.1"/>
<circle cx="441.2" cy="114.7" r="1.4"/>
<circle cx="451.4" cy="98.2" r="1.8"/>
<circle cx="441.0" cy="117.4" r="1.6"/>
<circle cx="442.8" cy="107.5" r="1.8"/>
<circle cx="447.8" cy="103.9" r="1.1"/>
<circle cx="456.4" cy="105.4" r="1.6"/>
<circle cx="448.9" cy="104.5" r="1.4"/>
<circle cx="458.4" cy="107.1" r="1.7"/>
<circle cx="448.9" cy="127.0" r="1.8"/>
<circle cx="437.7" cy="108.9" r="1.6"/>
</g>
<circle cx="450.0" cy="36.5" r="1.5" fill="#05822e" opacity="0.8" filter="url(#b05)"/>
<rect x="431.00" y="33.80" width="95.40" height="95.10" fill="url(#vig)" />
</g>
<clipPath id="mc7"><rect x="331.1" y="133.1" width="95.7" height="94.7"/></clipPath>
<g clip-path="url(#mc7)">
<rect x="331.10" y="133.10" width="95.70" height="94.70" fill="#011f0c" />
<circle cx="364.5" cy="179.0" r="19.0" fill="#013013" opacity="0.5" filter="url(#b6)"/>
<circle cx="399.5" cy="178.5" r="20.0" fill="#013013" opacity="0.5" filter="url(#b6)"/>
<circle cx="364.5" cy="179.0" r="12.5" fill="#023a17" opacity="0.65" filter="url(#b3)"/>
<ellipse cx="399.5" cy="178.5" rx="15.0" ry="13.0" fill="#023c18" opacity="0.65" filter="url(#b3)" transform="rotate(0 399.5 178.5)"/>
<g fill="#057d2d" opacity="0.6" filter="url(#b1)">
<circle cx="368.2" cy="168.5" r="0.8"/>
<circle cx="368.9" cy="169.4" r="1.2"/>
<circle cx="358.8" cy="175.5" r="1.2"/>
<circle cx="367.2" cy="169.5" r="1.3"/>
<circle cx="362.2" cy="180.6" r="1.1"/>
<circle cx="365.4" cy="173.3" r="1.2"/>
<circle cx="368.8" cy="175.8" r="1.1"/>
<circle cx="360.7" cy="171.3" r="0.9"/>
<circle cx="363.7" cy="187.5" r="1.2"/>
<circle cx="360.8" cy="178.8" r="1.2"/>
<circle cx="364.7" cy="172.7" r="1.1"/>
<circle cx="372.3" cy="171.8" r="1.1"/>
<circle cx="355.6" cy="179.2" r="0.9"/>
<circle cx="365.7" cy="182.4" r="1.2"/>
</g>
<circle cx="398.0" cy="186.0" r="6.0" fill="#034c1e" opacity="0.4" filter="url(#b3)"/>
<circle cx="345.0" cy="155.0" r="14.0" fill="#012c11" opacity="0.4" filter="url(#b6)"/>
<rect x="331.10" y="133.10" width="95.70" height="94.70" fill="url(#vig)" />
</g>
<clipPath id="mc8"><rect x="431.0" y="133.1" width="95.4" height="94.7"/></clipPath>
<g clip-path="url(#mc8)">
<rect x="431.00" y="133.10" width="95.40" height="94.70" fill="#01190a" />
<circle cx="480.0" cy="178.0" r="32.0" fill="#023615" opacity="0.5" filter="url(#b10)"/>
<path d="M447.1 165.8 C447.8 162.7 449.2 156.0 452.4 152.7 C455.6 149.4 462.4 146.4 466.3 145.9 C470.2 145.4 474.0 147.0 476.1 149.5 C478.2 152.0 478.9 156.7 478.9 160.9 C478.9 165.1 478.1 171.2 476.1 174.8 C474.1 178.4 470.8 181.6 467.1 182.2 C463.4 182.8 457.1 179.9 454.0 178.1 C450.9 176.3 449.4 173.6 448.3 171.6 C447.2 169.6 446.4 169.0 447.1 165.8Z" fill="#046e27" opacity="0.7" filter="url(#b2)" stroke="#046e27" stroke-width="4"/>
<path d="M474.0 195.3 C474.3 192.4 474.5 187.6 476.9 184.6 C479.3 181.6 484.3 178.7 488.4 177.3 C492.5 176.0 498.1 175.4 501.5 176.5 C504.9 177.6 507.2 181.2 508.8 183.8 C510.4 186.4 511.6 188.6 511.3 192.0 C511.0 195.4 510.2 200.6 507.2 204.3 C504.2 208.0 497.8 213.4 493.3 214.1 C488.8 214.8 483.2 210.4 480.2 208.4 C477.2 206.4 476.3 204.0 475.3 201.8 C474.3 199.6 473.7 198.2 474.0 195.3Z" fill="#046e27" opacity="0.7" filter="url(#b2)" stroke="#046e27" stroke-width="4"/>
<path d="M447.1 165.8 C447.8 162.7 449.2 156.0 452.4 152.7 C455.6 149.4 462.4 146.4 466.3 145.9 C470.2 145.4 474.0 147.0 476.1 149.5 C478.2 152.0 478.9 156.7 478.9 160.9 C478.9 165.1 478.1 171.2 476.1 174.8 C474.1 178.4 470.8 181.6 467.1 182.2 C463.4 182.8 457.1 179.9 454.0 178.1 C450.9 176.3 449.4 173.6 448.3 171.6 C447.2 169.6 446.4 169.0 447.1 165.8Z" fill="#0ace3f" filter="url(#b05)"/>
<path d="M474.0 195.3 C474.3 192.4 474.5 187.6 476.9 184.6 C479.3 181.6 484.3 178.7 488.4 177.3 C492.5 176.0 498.1 175.4 501.5 176.5 C504.9 177.6 507.2 181.2 508.8 183.8 C510.4 186.4 511.6 188.6 511.3 192.0 C511.0 195.4 510.2 200.6 507.2 204.3 C504.2 208.0 497.8 213.4 493.3 214.1 C488.8 214.8 483.2 210.4 480.2 208.4 C477.2 206.4 476.3 204.0 475.3 201.8 C474.3 199.6 473.7 198.2 474.0 195.3Z" fill="#0ace3f" filter="url(#b05)"/>
<circle cx="510.5" cy="152.0" r="11.0" fill="#023214" opacity="0.5" filter="url(#b3)"/>
<g fill="#057d2d" opacity="0.7" filter="url(#b1)">
<circle cx="504.9" cy="158.6" r="1.0"/>
<circle cx="506.1" cy="151.5" r="0.8"/>
<circle cx="517.5" cy="151.9" r="0.9"/>
<circle cx="503.6" cy="144.4" r="0.9"/>
<circle cx="505.0" cy="148.1" r="1.1"/>
<circle cx="512.6" cy="152.3" r="1.3"/>
<circle cx="515.8" cy="146.0" r="1.1"/>
<circle cx="509.8" cy="162.1" r="1.0"/>
<circle cx="520.0" cy="148.7" r="1.2"/>
<circle cx="516.1" cy="150.7" r="0.8"/>
<circle cx="512.0" cy="156.7" r="0.8"/>
<circle cx="518.6" cy="154.7" r="1.2"/>
<circle cx="499.7" cy="154.9" r="1.3"/>
<circle cx="518.7" cy="155.5" r="1.0"/>
<circle cx="518.7" cy="159.7" r="0.9"/>
<circle cx="502.0" cy="148.4" r="1.3"/>
<circle cx="507.0" cy="145.7" r="1.0"/>
<circle cx="516.6" cy="161.5" r="1.3"/>
<circle cx="510.9" cy="154.2" r="0.9"/>
<circle cx="504.0" cy="160.8" r="1.3"/>
<circle cx="511.8" cy="149.9" r="1.2"/>
<circle cx="508.2" cy="143.0" r="1.3"/>
</g>
<g fill="#046925" opacity="0.5" filter="url(#b1)">
<circle cx="525.6" cy="203.8" r="1.1"/>
<circle cx="528.1" cy="201.2" r="0.8"/>
<circle cx="519.1" cy="200.2" r="0.8"/>
<circle cx="522.1" cy="205.7" r="0.8"/>
<circle cx="521.1" cy="203.3" r="0.8"/>
<circle cx="526.6" cy="206.9" r="0.7"/>
</g>
<rect x="431.00" y="133.10" width="95.40" height="94.70" fill="url(#vig)" />
</g>
<text x="487.00" y="239.80" font-size="12.4" text-anchor="end" font-weight="bold" fill="#10c24c" >γH2AX</text>
<line x1="484.10" y1="230.40" x2="525.00" y2="230.40" stroke="#222" stroke-width="1.2" />
<text x="512.90" y="241.60" font-size="12.3" text-anchor="middle" fill="#1c1c1c" stroke="#1c1c1c" stroke-width="0.3" >50 μm</text>
</g>
<g id="panelC">
<text x="7.00" y="256.80" font-size="21.6" fill="#111" stroke="#111" stroke-width="0.3" >C</text>
<line x1="56.60" y1="284.20" x2="56.60" y2="402.20" stroke="#3a3a3a" stroke-width="1.25" />
<line x1="51.60" y1="401.60" x2="56.60" y2="401.60" stroke="#3a3a3a" stroke-width="1.25" />
<text x="49.30" y="406.30" font-size="13.4" text-anchor="end" fill="#1c1c1c" stroke="#1c1c1c" stroke-width="0.3" >0</text>
<line x1="51.60" y1="372.40" x2="56.60" y2="372.40" stroke="#3a3a3a" stroke-width="1.25" />
<text x="50.60" y="377.10" font-size="13.4" text-anchor="end" fill="#1c1c1c" stroke="#1c1c1c" stroke-width="0.3" >10</text>
<line x1="51.60" y1="343.20" x2="56.60" y2="343.20" stroke="#3a3a3a" stroke-width="1.25" />
<text x="50.60" y="347.90" font-size="13.4" text-anchor="end" fill="#1c1c1c" stroke="#1c1c1c" stroke-width="0.3" >20</text>
<line x1="51.60" y1="314.00" x2="56.60" y2="314.00" stroke="#3a3a3a" stroke-width="1.25" />
<text x="50.60" y="318.70" font-size="13.4" text-anchor="end" fill="#1c1c1c" stroke="#1c1c1c" stroke-width="0.3" >30</text>
<line x1="51.60" y1="284.80" x2="56.60" y2="284.80" stroke="#3a3a3a" stroke-width="1.25" />
<text x="50.60" y="289.50" font-size="13.4" text-anchor="end" fill="#1c1c1c" stroke="#1c1c1c" stroke-width="0.3" >40</text>
<line x1="51.60" y1="401.60" x2="231.80" y2="401.60" stroke="#3a3a3a" stroke-width="1.25" />
<rect x="62.80" y="396.93" width="14.90" height="4.67" fill="#0a12f5" />
<line x1="70.25" y1="396.93" x2="70.25" y2="396.20" stroke="#0a12f5" stroke-width="1.2" />
<line x1="66.65" y1="396.20" x2="73.85" y2="396.20" stroke="#0a12f5" stroke-width="1.3" />
<rect x="83.70" y="394.01" width="14.90" height="7.59" fill="#ff0a14" />
<line x1="91.15" y1="394.01" x2="91.15" y2="393.13" stroke="#ff0a14" stroke-width="1.2" />
<line x1="87.55" y1="393.13" x2="94.75" y2="393.13" stroke="#ff0a14" stroke-width="1.3" />
<rect x="104.60" y="372.40" width="14.90" height="29.20" fill="#0a12f5" />
<line x1="112.05" y1="372.40" x2="112.05" y2="371.38" stroke="#0a12f5" stroke-width="1.2" />
<line x1="108.45" y1="371.38" x2="115.65" y2="371.38" stroke="#0a12f5" stroke-width="1.3" />
<rect x="125.60" y="343.20" width="14.90" height="58.40" fill="#ff0a14" />
<line x1="133.05" y1="343.20" x2="133.05" y2="339.99" stroke="#ff0a14" stroke-width="1.2" />
<line x1="129.45" y1="339.99" x2="136.65" y2="339.99" stroke="#ff0a14" stroke-width="1.3" />
<rect x="146.70" y="359.26" width="14.90" height="42.34" fill="#0a12f5" />
<line x1="154.15" y1="359.26" x2="154.15" y2="357.51" stroke="#0a12f5" stroke-width="1.2" />
<line x1="150.55" y1="357.51" x2="157.75" y2="357.51" stroke="#0a12f5" stroke-width="1.3" />
<rect x="167.70" y="325.39" width="14.90" height="76.21" fill="#ff0a14" />
<line x1="175.15" y1="325.39" x2="175.15" y2="322.18" stroke="#ff0a14" stroke-width="1.2" />
<line x1="171.55" y1="322.18" x2="178.75" y2="322.18" stroke="#ff0a14" stroke-width="1.3" />
<rect x="189.00" y="340.28" width="14.90" height="61.32" fill="#0a12f5" />
<line x1="196.45" y1="340.28" x2="196.45" y2="338.53" stroke="#0a12f5" stroke-width="1.2" />
<line x1="192.85" y1="338.53" x2="200.05" y2="338.53" stroke="#0a12f5" stroke-width="1.3" />
<rect x="209.90" y="304.66" width="14.90" height="96.94" fill="#ff0a14" />
<line x1="217.35" y1="304.66" x2="217.35" y2="300.57" stroke="#ff0a14" stroke-width="1.2" />
<line x1="213.75" y1="300.57" x2="220.95" y2="300.57" stroke="#ff0a14" stroke-width="1.3" />
<path d="M69.80 389.20 V288.70 H91.00 V386.30" stroke="#2a2a2a" stroke-width="1.05" fill="none" />
<text x="82.80" y="285.40" font-size="13.6" text-anchor="middle" fill="#1c1c1c" stroke="#1c1c1c" stroke-width="0.3" >ns</text>
<path d="M111.90 364.60 V288.70 H133.10 V333.50" stroke="#2a2a2a" stroke-width="1.05" fill="none" />
<text x="124.10" y="290.10" font-size="16.8" text-anchor="middle" fill="#1c1c1c" stroke="#1c1c1c" stroke-width="0.3" >****</text>
<path d="M153.80 350.80 V288.70 H175.20 V316.70" stroke="#2a2a2a" stroke-width="1.05" fill="none" />
<text x="165.30" y="290.10" font-size="16.8" text-anchor="middle" fill="#1c1c1c" stroke="#1c1c1c" stroke-width="0.3" >****</text>
<path d="M195.80 331.90 V288.70 H217.30 V295.00" stroke="#2a2a2a" stroke-width="1.05" fill="none" />
<text x="207.05" y="290.10" font-size="16.8" text-anchor="middle" fill="#1c1c1c" stroke="#1c1c1c" stroke-width="0.3" >****</text>
<text x="14.30" y="347.30" font-size="12.75" text-anchor="middle" fill="#1c1c1c" stroke="#1c1c1c" stroke-width="0.3" transform="rotate(-90 14.30 347.30)" >C4-2B</text>
<text x="29.00" y="340.30" font-size="12.75" text-anchor="middle" fill="#1c1c1c" stroke="#1c1c1c" stroke-width="0.3" transform="rotate(-90 29.00 340.30)" >Average # DNA Breaks</text>
<line x1="64.90" y1="407.60" x2="101.30" y2="407.60" stroke="#3a3a3a" stroke-width="1.15" />
<line x1="70.25" y1="401.60" x2="70.25" y2="407.60" stroke="#3a3a3a" stroke-width="1.1" />
<line x1="91.15" y1="401.60" x2="91.15" y2="407.60" stroke="#3a3a3a" stroke-width="1.1" />
<text x="90.00" y="419.90" font-size="12.75" text-anchor="middle" fill="#1c1c1c" stroke="#1c1c1c" stroke-width="0.3" >0 h</text>
<line x1="106.40" y1="407.60" x2="142.80" y2="407.60" stroke="#3a3a3a" stroke-width="1.15" />
<line x1="112.05" y1="401.60" x2="112.05" y2="407.60" stroke="#3a3a3a" stroke-width="1.1" />
<line x1="133.05" y1="401.60" x2="133.05" y2="407.60" stroke="#3a3a3a" stroke-width="1.1" />
<text x="133.00" y="419.90" font-size="12.75" text-anchor="middle" fill="#1c1c1c" stroke="#1c1c1c" stroke-width="0.3" >0.5 h</text>
<line x1="147.80" y1="407.60" x2="184.20" y2="407.60" stroke="#3a3a3a" stroke-width="1.15" />
<line x1="154.15" y1="401.60" x2="154.15" y2="407.60" stroke="#3a3a3a" stroke-width="1.1" />
<line x1="175.15" y1="401.60" x2="175.15" y2="407.60" stroke="#3a3a3a" stroke-width="1.1" />
<text x="174.00" y="419.90" font-size="12.75" text-anchor="middle" fill="#1c1c1c" stroke="#1c1c1c" stroke-width="0.3" >1 h</text>
<line x1="189.20" y1="407.60" x2="225.00" y2="407.60" stroke="#3a3a3a" stroke-width="1.15" />
<line x1="196.45" y1="401.60" x2="196.45" y2="407.60" stroke="#3a3a3a" stroke-width="1.1" />
<line x1="217.35" y1="401.60" x2="217.35" y2="407.60" stroke="#3a3a3a" stroke-width="1.1" />
<text x="213.00" y="419.90" font-size="12.75" text-anchor="middle" fill="#1c1c1c" stroke="#1c1c1c" stroke-width="0.3" >2 h</text>
<text x="5.20" y="419.90" font-size="12.75" fill="#1c1c1c" stroke="#1c1c1c" stroke-width="0.3" >Etoposide</text>
<rect x="63.20" y="430.00" width="15.00" height="8.70" fill="#0a12f5" />
<text x="80.80" y="438.70" font-size="12.75" fill="#1c1c1c" stroke="#1c1c1c" stroke-width="0.3" >Parental</text>
<rect x="133.60" y="430.00" width="15.40" height="8.70" fill="#ff0a14" />
<text x="151.90" y="438.70" font-size="12.65" font-style="italic" fill="#1c1c1c" stroke="#1c1c1c" stroke-width="0.3" >HOXB13K13Am</text>
</g>
<g id="panelD">
<text x="272.40" y="256.80" font-size="21.6" fill="#111" stroke="#111" stroke-width="0.3" >D</text>
<line x1="331.90" y1="287.00" x2="331.90" y2="402.40" stroke="#3a3a3a" stroke-width="1.25" />
<line x1="327.30" y1="401.80" x2="331.90" y2="401.80" stroke="#3a3a3a" stroke-width="1.25" />
<text x="324.40" y="406.50" font-size="13.4" text-anchor="end" fill="#1c1c1c" stroke="#1c1c1c" stroke-width="0.3" >0</text>
<line x1="327.30" y1="373.25" x2="331.90" y2="373.25" stroke="#3a3a3a" stroke-width="1.25" />
<text x="325.70" y="377.95" font-size="13.4" text-anchor="end" fill="#1c1c1c" stroke="#1c1c1c" stroke-width="0.3" >10</text>
<line x1="327.30" y1="344.70" x2="331.90" y2="344.70" stroke="#3a3a3a" stroke-width="1.25" />
<text x="325.70" y="349.40" font-size="13.4" text-anchor="end" fill="#1c1c1c" stroke="#1c1c1c" stroke-width="0.3" >20</text>
<line x1="327.30" y1="316.15" x2="331.90" y2="316.15" stroke="#3a3a3a" stroke-width="1.25" />
<text x="325.70" y="320.85" font-size="13.4" text-anchor="end" fill="#1c1c1c" stroke="#1c1c1c" stroke-width="0.3" >30</text>
<line x1="327.30" y1="287.60" x2="331.90" y2="287.60" stroke="#3a3a3a" stroke-width="1.25" />
<text x="325.70" y="292.30" font-size="13.4" text-anchor="end" fill="#1c1c1c" stroke="#1c1c1c" stroke-width="0.3" >40</text>
<line x1="327.30" y1="401.80" x2="503.80" y2="401.80" stroke="#3a3a3a" stroke-width="1.25" />
<rect x="338.70" y="400.52" width="14.60" height="1.28" fill="#0a12f5" />
<line x1="346.00" y1="400.52" x2="346.00" y2="400.17" stroke="#0a12f5" stroke-width="1.2" />
<line x1="342.40" y1="400.17" x2="349.60" y2="400.17" stroke="#0a12f5" stroke-width="1.3" />
<rect x="359.10" y="398.94" width="14.60" height="2.86" fill="#ff0a14" />
<line x1="366.40" y1="398.94" x2="366.40" y2="398.52" stroke="#ff0a14" stroke-width="1.2" />
<line x1="362.80" y1="398.52" x2="370.00" y2="398.52" stroke="#ff0a14" stroke-width="1.3" />
<rect x="379.70" y="373.25" width="14.60" height="28.55" fill="#0a12f5" />
<line x1="387.00" y1="373.25" x2="387.00" y2="371.25" stroke="#0a12f5" stroke-width="1.2" />
<line x1="383.40" y1="371.25" x2="390.60" y2="371.25" stroke="#0a12f5" stroke-width="1.3" />
<rect x="400.30" y="374.39" width="14.60" height="27.41" fill="#ff0a14" />
<line x1="407.60" y1="374.39" x2="407.60" y2="372.68" stroke="#ff0a14" stroke-width="1.2" />
<line x1="404.00" y1="372.68" x2="411.20" y2="372.68" stroke="#ff0a14" stroke-width="1.3" />
<rect x="420.90" y="356.69" width="14.60" height="45.11" fill="#0a12f5" />
<line x1="428.20" y1="356.69" x2="428.20" y2="354.98" stroke="#0a12f5" stroke-width="1.2" />
<line x1="424.60" y1="354.98" x2="431.80" y2="354.98" stroke="#0a12f5" stroke-width="1.3" />
<rect x="441.50" y="357.26" width="14.60" height="44.54" fill="#ff0a14" />
<line x1="448.80" y1="357.26" x2="448.80" y2="355.69" stroke="#ff0a14" stroke-width="1.2" />
<line x1="445.20" y1="355.69" x2="452.40" y2="355.69" stroke="#ff0a14" stroke-width="1.3" />
<rect x="462.10" y="336.13" width="14.60" height="65.67" fill="#0a12f5" />
<line x1="469.40" y1="336.13" x2="469.40" y2="334.28" stroke="#0a12f5" stroke-width="1.2" />
<line x1="465.80" y1="334.28" x2="473.00" y2="334.28" stroke="#0a12f5" stroke-width="1.3" />
<rect x="482.70" y="329.57" width="14.60" height="72.23" fill="#ff0a14" />
<line x1="490.00" y1="329.57" x2="490.00" y2="327.43" stroke="#ff0a14" stroke-width="1.2" />
<line x1="486.40" y1="327.43" x2="493.60" y2="327.43" stroke="#ff0a14" stroke-width="1.3" />
<path d="M345.80 390.80 V291.20 H366.30 V390.20" stroke="#2a2a2a" stroke-width="1.05" fill="none" />
<text x="358.75" y="287.90" font-size="13.6" text-anchor="middle" fill="#1c1c1c" stroke="#1c1c1c" stroke-width="0.3" >ns</text>
<path d="M386.90 364.60 V291.20 H407.60 V365.80" stroke="#2a2a2a" stroke-width="1.05" fill="none" />
<text x="399.95" y="287.90" font-size="13.6" text-anchor="middle" fill="#1c1c1c" stroke="#1c1c1c" stroke-width="0.3" >ns</text>
<path d="M427.90 347.90 V291.20 H448.50 V348.80" stroke="#2a2a2a" stroke-width="1.05" fill="none" />
<text x="441.00" y="287.90" font-size="13.6" text-anchor="middle" fill="#1c1c1c" stroke="#1c1c1c" stroke-width="0.3" >ns</text>
<path d="M469.20 327.30 V291.20 H489.80 V309.40" stroke="#2a2a2a" stroke-width="1.05" fill="none" />
<text x="479.50" y="292.60" font-size="16.8" text-anchor="middle" fill="#1c1c1c" stroke="#1c1c1c" stroke-width="0.3" >**</text>
<text x="288.50" y="347.30" font-size="12.75" text-anchor="middle" fill="#1c1c1c" stroke="#1c1c1c" stroke-width="0.3" transform="rotate(-90 288.50 347.30)" >22Rv1</text>
<text x="304.50" y="340.40" font-size="12.75" text-anchor="middle" fill="#1c1c1c" stroke="#1c1c1c" stroke-width="0.3" transform="rotate(-90 304.50 340.40)" >Average # DNA Breaks</text>
<line x1="333.60" y1="408.50" x2="371.30" y2="408.50" stroke="#555" stroke-width="1.7" />
<line x1="346.00" y1="401.80" x2="346.00" y2="408.50" stroke="#3a3a3a" stroke-width="1.1" />
<line x1="366.40" y1="401.80" x2="366.40" y2="408.50" stroke="#3a3a3a" stroke-width="1.1" />
<text x="359.20" y="420.30" font-size="12.75" text-anchor="middle" fill="#1c1c1c" stroke="#1c1c1c" stroke-width="0.3" >0 h</text>
<line x1="376.40" y1="408.50" x2="414.50" y2="408.50" stroke="#555" stroke-width="1.7" />
<line x1="387.00" y1="401.80" x2="387.00" y2="408.50" stroke="#3a3a3a" stroke-width="1.1" />
<line x1="407.60" y1="401.80" x2="407.60" y2="408.50" stroke="#3a3a3a" stroke-width="1.1" />
<text x="404.20" y="420.30" font-size="12.75" text-anchor="middle" fill="#1c1c1c" stroke="#1c1c1c" stroke-width="0.3" >0.5 h</text>
<line x1="419.00" y1="408.50" x2="458.00" y2="408.50" stroke="#555" stroke-width="1.7" />
<line x1="428.20" y1="401.80" x2="428.20" y2="408.50" stroke="#3a3a3a" stroke-width="1.1" />
<line x1="448.80" y1="401.80" x2="448.80" y2="408.50" stroke="#3a3a3a" stroke-width="1.1" />
<text x="447.00" y="420.30" font-size="12.75" text-anchor="middle" fill="#1c1c1c" stroke="#1c1c1c" stroke-width="0.3" >1 h</text>
<line x1="462.30" y1="408.50" x2="499.70" y2="408.50" stroke="#555" stroke-width="1.7" />
<line x1="469.40" y1="401.80" x2="469.40" y2="408.50" stroke="#3a3a3a" stroke-width="1.1" />
<line x1="490.00" y1="401.80" x2="490.00" y2="408.50" stroke="#3a3a3a" stroke-width="1.1" />
<text x="487.50" y="420.30" font-size="12.75" text-anchor="middle" fill="#1c1c1c" stroke="#1c1c1c" stroke-width="0.3" >2 h</text>
<text x="278.80" y="422.20" font-size="12.75" fill="#1c1c1c" stroke="#1c1c1c" stroke-width="0.3" >Etoposide</text>
<rect x="332.60" y="430.00" width="16.10" height="9.00" fill="#0a12f5" />
<text x="351.80" y="438.90" font-size="12.75" fill="#1c1c1c" stroke="#1c1c1c" stroke-width="0.3" >Parental</text>
<rect x="408.00" y="430.00" width="15.80" height="9.00" fill="#ff0a14" />
<text x="427.50" y="438.90" font-size="12.65" font-style="italic" fill="#1c1c1c" stroke="#1c1c1c" stroke-width="0.3" >HOXB13K13Am</text>
</g>
<g id="panelE">
<text x="5.40" y="482.70" font-size="21.6" fill="#111" stroke="#111" stroke-width="0.3" >E</text>
<text x="34.20" y="465.60" font-size="10.5" fill="#1c1c1c" stroke="#1c1c1c" stroke-width="0.3" >Wash</text>
<text x="126.70" y="465.60" font-size="10.5" fill="#1c1c1c" stroke="#1c1c1c" stroke-width="0.3" >Wash</text>
<line x1="35.40" y1="470.40" x2="35.40" y2="489.50" stroke="#1e7a2c" stroke-width="1.4" />
<path d="M33.2 487.6 L35.4 492.4 L37.6 487.6 Z" stroke="none" stroke-width="0" fill="#1e7a2c" />
<line x1="34.70" y1="494.60" x2="121.50" y2="494.60" stroke="#1e7a2c" stroke-width="1.5" />
<path d="M120.6 492.0 L125.4 494.6 L120.6 497.2 Z" stroke="none" stroke-width="0" fill="#1e7a2c" />
<text x="75.80" y="488.40" font-size="10.1" text-anchor="middle" font-weight="bold" fill="#22b833" >IdU</text>
<text x="82.60" y="508.70" font-size="12.3" text-anchor="middle" fill="#1c1c1c" stroke="#1c1c1c" stroke-width="0.3" >20 min</text>
<line x1="129.70" y1="471.00" x2="129.70" y2="490.00" stroke="#222" stroke-width="1.4" />
<path d="M127.5 488.2 L129.7 493.2 L131.9 488.2 Z" stroke="none" stroke-width="0" fill="#222" />
<line x1="129.70" y1="508.20" x2="129.70" y2="499.50" stroke="#777" stroke-width="0.9" />
<path d="M128.4 500.6 L129.7 497.0 L131.0 500.6 Z" stroke="none" stroke-width="0" fill="#666" />
<line x1="132.00" y1="494.60" x2="218.50" y2="494.60" stroke="#c83246" stroke-width="1.5" />
<path d="M217.6 492.0 L222.6 494.6 L217.6 497.2 Z" stroke="none" stroke-width="0" fill="#c83246" />
<text x="145.00" y="479.50" font-size="10.2" font-weight="bold" fill="#d2233c" >CldU</text>
<text x="174.90" y="479.50" font-size="10.2" font-weight="bold" fill="#d2233c" >+</text>
<text x="183.40" y="479.50" font-size="10.2" font-weight="bold" fill="#1432f0" >Etop/</text>
<text x="177.20" y="491.60" font-size="11.2" text-anchor="middle" font-weight="bold" fill="#1432f0" >MMC</text>
<text x="178.70" y="508.70" font-size="12.3" text-anchor="middle" fill="#1c1c1c" stroke="#1c1c1c" stroke-width="0.3" >20 min</text>
<line x1="46.30" y1="547.00" x2="46.30" y2="648.10" stroke="#3a3a3a" stroke-width="1.25" />
<line x1="41.90" y1="647.50" x2="46.30" y2="647.50" stroke="#3a3a3a" stroke-width="1.25" />
<text x="42.60" y="652.10" font-size="13" text-anchor="end" fill="#1c1c1c" stroke="#1c1c1c" stroke-width="0.3" >0</text>
<line x1="41.90" y1="622.52" x2="46.30" y2="622.52" stroke="#3a3a3a" stroke-width="1.25" />
<text x="42.60" y="627.12" font-size="13" text-anchor="end" fill="#1c1c1c" stroke="#1c1c1c" stroke-width="0.3" >10</text>
<line x1="41.90" y1="597.55" x2="46.30" y2="597.55" stroke="#3a3a3a" stroke-width="1.25" />
<text x="42.60" y="602.15" font-size="13" text-anchor="end" fill="#1c1c1c" stroke="#1c1c1c" stroke-width="0.3" >20</text>
<line x1="41.90" y1="572.58" x2="46.30" y2="572.58" stroke="#3a3a3a" stroke-width="1.25" />
<text x="42.60" y="577.18" font-size="13" text-anchor="end" fill="#1c1c1c" stroke="#1c1c1c" stroke-width="0.3" >30</text>
<line x1="41.90" y1="547.60" x2="46.30" y2="547.60" stroke="#3a3a3a" stroke-width="1.25" />
<text x="42.60" y="552.20" font-size="13" text-anchor="end" fill="#1c1c1c" stroke="#1c1c1c" stroke-width="0.3" >40</text>
<line x1="41.90" y1="647.50" x2="227.20" y2="647.50" stroke="#3a3a3a" stroke-width="1.25" />
<text x="20.00" y="591.90" font-size="12.5" text-anchor="middle" fill="#1c1c1c" stroke="#1c1c1c" stroke-width="0.3" transform="rotate(-90 20.00 591.90)" >Track length (μm)</text>
<line x1="64.80" y1="647.50" x2="64.80" y2="651.30" stroke="#3a3a3a" stroke-width="1.1" />
<line x1="94.40" y1="647.50" x2="94.40" y2="651.30" stroke="#3a3a3a" stroke-width="1.1" />
<line x1="123.20" y1="647.50" x2="123.20" y2="651.30" stroke="#3a3a3a" stroke-width="1.1" />
<line x1="152.00" y1="647.50" x2="152.00" y2="651.30" stroke="#3a3a3a" stroke-width="1.1" />
<line x1="180.70" y1="647.50" x2="180.70" y2="651.30" stroke="#3a3a3a" stroke-width="1.1" />
<line x1="209.70" y1="647.50" x2="209.70" y2="651.30" stroke="#3a3a3a" stroke-width="1.1" />
<g fill="#4d8fdc">
<rect x="64.2" y="556.6" width="1.25" height="1.25" opacity="0.78"/>
<rect x="65.8" y="557.2" width="1.25" height="1.25" opacity="0.93"/>
<rect x="63.8" y="562.2" width="1.25" height="1.25" opacity="0.83"/>
<rect x="64.1" y="563.9" width="1.25" height="1.25" opacity="0.56"/>
<rect x="63.4" y="566.4" width="1.25" height="1.25" opacity="0.79"/>
<rect x="62.1" y="569.3" width="1.25" height="1.25" opacity="0.61"/>
<rect x="64.0" y="569.2" width="1.25" height="1.25" opacity="0.86"/>
<rect x="65.4" y="569.3" width="1.25" height="1.25" opacity="0.72"/>
<rect x="64.2" y="571.2" width="1.25" height="1.25" opacity="0.60"/>
<rect x="65.5" y="570.9" width="1.25" height="1.25" opacity="0.59"/>
<rect x="64.6" y="573.4" width="1.25" height="1.25" opacity="0.90"/>
<rect x="62.2" y="576.6" width="1.25" height="1.25" opacity="0.87"/>
<rect x="65.8" y="576.8" width="1.25" height="1.25" opacity="0.73"/>
<rect x="62.4" y="578.9" width="1.25" height="1.25" opacity="0.63"/>
<rect x="63.7" y="578.5" width="1.25" height="1.25" opacity="0.62"/>
<rect x="65.9" y="578.6" width="1.25" height="1.25" opacity="0.60"/>
<rect x="62.0" y="579.9" width="1.25" height="1.25" opacity="0.77"/>
<rect x="63.8" y="580.0" width="1.25" height="1.25" opacity="0.78"/>
<rect x="65.9" y="580.3" width="1.25" height="1.25" opacity="0.59"/>
<rect x="55.5" y="582.9" width="1.25" height="1.25" opacity="0.91"/>
<rect x="57.1" y="582.5" width="1.25" height="1.25" opacity="0.79"/>
<rect x="60.5" y="582.9" width="1.25" height="1.25" opacity="0.56"/>
<rect x="62.1" y="582.7" width="1.25" height="1.25" opacity="0.94"/>
<rect x="64.1" y="582.7" width="1.25" height="1.25" opacity="0.89"/>
<rect x="65.9" y="583.0" width="1.25" height="1.25" opacity="0.53"/>
<rect x="67.2" y="582.9" width="1.25" height="1.25" opacity="0.91"/>
<rect x="69.3" y="582.7" width="1.25" height="1.25" opacity="0.90"/>
<rect x="70.5" y="582.9" width="1.25" height="1.25" opacity="0.70"/>
<rect x="72.7" y="582.4" width="1.25" height="1.25" opacity="0.61"/>
<rect x="55.3" y="584.1" width="1.25" height="1.25" opacity="0.61"/>
<rect x="58.6" y="584.5" width="1.25" height="1.25" opacity="0.59"/>
<rect x="60.6" y="584.4" width="1.25" height="1.25" opacity="0.74"/>
<rect x="62.0" y="584.7" width="1.25" height="1.25" opacity="0.82"/>
<rect x="63.7" y="584.4" width="1.25" height="1.25" opacity="0.73"/>
<rect x="65.4" y="584.3" width="1.25" height="1.25" opacity="0.56"/>
<rect x="67.6" y="584.1" width="1.25" height="1.25" opacity="0.76"/>
<rect x="68.9" y="584.6" width="1.25" height="1.25" opacity="0.92"/>
<rect x="70.7" y="584.6" width="1.25" height="1.25" opacity="0.74"/>
<rect x="72.7" y="584.6" width="1.25" height="1.25" opacity="0.65"/>
<rect x="57.4" y="586.1" width="1.25" height="1.25" opacity="0.94"/>
<rect x="58.8" y="586.1" width="1.25" height="1.25" opacity="0.65"/>
<rect x="60.7" y="586.0" width="1.25" height="1.25" opacity="0.89"/>
<rect x="62.0" y="585.8" width="1.25" height="1.25" opacity="0.58"/>
<rect x="63.8" y="586.2" width="1.25" height="1.25" opacity="0.60"/>
<rect x="65.6" y="586.5" width="1.25" height="1.25" opacity="0.70"/>
<rect x="67.7" y="586.5" width="1.25" height="1.25" opacity="0.52"/>
<rect x="71.0" y="586.2" width="1.25" height="1.25" opacity="0.78"/>
<rect x="55.3" y="587.8" width="1.25" height="1.25" opacity="0.70"/>
<rect x="58.8" y="587.9" width="1.25" height="1.25" opacity="0.55"/>
<rect x="60.8" y="587.8" width="1.25" height="1.25" opacity="0.62"/>
<rect x="62.3" y="587.5" width="1.25" height="1.25" opacity="0.56"/>
<rect x="63.9" y="587.7" width="1.25" height="1.25" opacity="0.63"/>
<rect x="65.4" y="587.8" width="1.25" height="1.25" opacity="0.88"/>
<rect x="67.4" y="587.9" width="1.25" height="1.25" opacity="0.59"/>
<rect x="69.1" y="587.8" width="1.25" height="1.25" opacity="0.78"/>
<rect x="70.7" y="587.6" width="1.25" height="1.25" opacity="0.60"/>
<rect x="72.4" y="587.8" width="1.25" height="1.25" opacity="0.51"/>
<rect x="54.9" y="589.4" width="1.25" height="1.25" opacity="0.65"/>
<rect x="56.6" y="589.3" width="1.25" height="1.25" opacity="0.53"/>
<rect x="58.1" y="589.7" width="1.25" height="1.25" opacity="0.66"/>
<rect x="59.7" y="589.8" width="1.25" height="1.25" opacity="0.66"/>
<rect x="61.4" y="590.0" width="1.25" height="1.25" opacity="0.80"/>
<rect x="64.9" y="589.3" width="1.25" height="1.25" opacity="0.59"/>
<rect x="66.4" y="589.8" width="1.25" height="1.25" opacity="0.54"/>
<rect x="73.4" y="589.7" width="1.25" height="1.25" opacity="0.82"/>
<rect x="56.5" y="591.3" width="1.25" height="1.25" opacity="0.72"/>
<rect x="59.7" y="591.5" width="1.25" height="1.25" opacity="0.89"/>
<rect x="61.4" y="591.2" width="1.25" height="1.25" opacity="0.71"/>
<rect x="63.0" y="591.2" width="1.25" height="1.25" opacity="0.75"/>
<rect x="64.7" y="591.5" width="1.25" height="1.25" opacity="0.88"/>
<rect x="66.5" y="591.0" width="1.25" height="1.25" opacity="0.64"/>
<rect x="68.3" y="591.3" width="1.25" height="1.25" opacity="0.54"/>
<rect x="71.8" y="591.5" width="1.25" height="1.25" opacity="0.93"/>
<rect x="73.3" y="591.6" width="1.25" height="1.25" opacity="0.50"/>
<rect x="55.7" y="592.8" width="1.25" height="1.25" opacity="0.74"/>
<rect x="57.2" y="592.9" width="1.25" height="1.25" opacity="0.87"/>
<rect x="58.8" y="592.9" width="1.25" height="1.25" opacity="0.52"/>
<rect x="60.5" y="592.6" width="1.25" height="1.25" opacity="0.53"/>
<rect x="62.2" y="593.0" width="1.25" height="1.25" opacity="0.79"/>
<rect x="65.5" y="592.9" width="1.25" height="1.25" opacity="0.68"/>
<rect x="67.6" y="593.0" width="1.25" height="1.25" opacity="0.81"/>
<rect x="68.8" y="592.9" width="1.25" height="1.25" opacity="0.66"/>
<rect x="70.7" y="592.7" width="1.25" height="1.25" opacity="0.80"/>
<rect x="72.4" y="593.3" width="1.25" height="1.25" opacity="0.73"/>
<rect x="54.6" y="594.9" width="1.25" height="1.25" opacity="0.59"/>
<rect x="57.8" y="594.7" width="1.25" height="1.25" opacity="0.55"/>
<rect x="59.8" y="594.9" width="1.25" height="1.25" opacity="0.81"/>
<rect x="61.1" y="594.8" width="1.25" height="1.25" opacity="0.75"/>
<rect x="64.6" y="594.3" width="1.25" height="1.25" opacity="0.51"/>
<rect x="66.7" y="594.7" width="1.25" height="1.25" opacity="0.89"/>
<rect x="69.7" y="594.4" width="1.25" height="1.25" opacity="0.77"/>
<rect x="71.6" y="594.7" width="1.25" height="1.25" opacity="0.51"/>
<rect x="73.6" y="594.7" width="1.25" height="1.25" opacity="0.71"/>
<rect x="57.7" y="596.2" width="1.25" height="1.25" opacity="0.65"/>
<rect x="59.6" y="595.7" width="1.25" height="1.25" opacity="0.62"/>
<rect x="61.7" y="596.0" width="1.25" height="1.25" opacity="0.66"/>
<rect x="63.1" y="595.6" width="1.25" height="1.25" opacity="0.90"/>
<rect x="65.1" y="595.9" width="1.25" height="1.25" opacity="0.78"/>
<rect x="66.3" y="596.3" width="1.25" height="1.25" opacity="0.88"/>
<rect x="68.5" y="596.2" width="1.25" height="1.25" opacity="0.64"/>
<rect x="70.2" y="596.0" width="1.25" height="1.25" opacity="0.93"/>
<rect x="71.6" y="596.1" width="1.25" height="1.25" opacity="0.60"/>
<rect x="56.5" y="597.3" width="1.25" height="1.25" opacity="0.89"/>
<rect x="57.8" y="597.6" width="1.25" height="1.25" opacity="0.50"/>
<rect x="61.3" y="597.5" width="1.25" height="1.25" opacity="0.89"/>
<rect x="63.2" y="598.0" width="1.25" height="1.25" opacity="0.69"/>
<rect x="66.5" y="597.6" width="1.25" height="1.25" opacity="0.66"/>
<rect x="68.1" y="597.3" width="1.25" height="1.25" opacity="0.86"/>
<rect x="69.7" y="597.4" width="1.25" height="1.25" opacity="0.75"/>
<rect x="71.7" y="597.6" width="1.25" height="1.25" opacity="0.86"/>
<rect x="55.4" y="599.6" width="1.25" height="1.25" opacity="0.67"/>
<rect x="59.1" y="599.4" width="1.25" height="1.25" opacity="0.60"/>
<rect x="60.4" y="599.5" width="1.25" height="1.25" opacity="0.62"/>
<rect x="63.9" y="599.2" width="1.25" height="1.25" opacity="0.77"/>
<rect x="65.9" y="599.1" width="1.25" height="1.25" opacity="0.73"/>
<rect x="67.2" y="599.6" width="1.25" height="1.25" opacity="0.67"/>
<rect x="69.1" y="599.2" width="1.25" height="1.25" opacity="0.68"/>
<rect x="70.6" y="599.7" width="1.25" height="1.25" opacity="0.64"/>
<rect x="72.2" y="599.4" width="1.25" height="1.25" opacity="0.66"/>
<rect x="56.5" y="600.7" width="1.25" height="1.25" opacity="0.63"/>
<rect x="59.6" y="601.4" width="1.25" height="1.25" opacity="0.71"/>
<rect x="61.5" y="601.4" width="1.25" height="1.25" opacity="0.92"/>
<rect x="63.0" y="601.3" width="1.25" height="1.25" opacity="0.81"/>
<rect x="66.6" y="601.0" width="1.25" height="1.25" opacity="0.95"/>
<rect x="68.5" y="600.8" width="1.25" height="1.25" opacity="0.63"/>
<rect x="70.0" y="600.9" width="1.25" height="1.25" opacity="0.80"/>
<rect x="71.7" y="601.0" width="1.25" height="1.25" opacity="0.84"/>
<rect x="58.6" y="603.2" width="1.25" height="1.25" opacity="0.79"/>
<rect x="60.8" y="603.4" width="1.25" height="1.25" opacity="0.82"/>
<rect x="62.2" y="603.5" width="1.25" height="1.25" opacity="0.66"/>
<rect x="64.2" y="603.6" width="1.25" height="1.25" opacity="0.63"/>
<rect x="65.9" y="603.5" width="1.25" height="1.25" opacity="0.52"/>
<rect x="67.1" y="603.6" width="1.25" height="1.25" opacity="0.59"/>
<rect x="59.0" y="605.5" width="1.25" height="1.25" opacity="0.78"/>
<rect x="60.6" y="605.0" width="1.25" height="1.25" opacity="0.93"/>
<rect x="62.2" y="605.1" width="1.25" height="1.25" opacity="0.81"/>
<rect x="65.7" y="605.2" width="1.25" height="1.25" opacity="0.59"/>
<rect x="67.6" y="605.3" width="1.25" height="1.25" opacity="0.72"/>
<rect x="69.3" y="605.3" width="1.25" height="1.25" opacity="0.75"/>
<rect x="59.2" y="606.9" width="1.25" height="1.25" opacity="0.74"/>
<rect x="60.3" y="606.7" width="1.25" height="1.25" opacity="0.69"/>
<rect x="62.2" y="606.5" width="1.25" height="1.25" opacity="0.82"/>
<rect x="63.8" y="606.6" width="1.25" height="1.25" opacity="0.73"/>
<rect x="65.9" y="606.7" width="1.25" height="1.25" opacity="0.63"/>
<rect x="69.1" y="606.6" width="1.25" height="1.25" opacity="0.87"/>
<rect x="59.5" y="608.6" width="1.25" height="1.25" opacity="0.77"/>
<rect x="61.6" y="608.7" width="1.25" height="1.25" opacity="0.55"/>
<rect x="63.0" y="608.2" width="1.25" height="1.25" opacity="0.53"/>
<rect x="64.6" y="608.6" width="1.25" height="1.25" opacity="0.70"/>
<rect x="66.4" y="608.4" width="1.25" height="1.25" opacity="0.66"/>
<rect x="68.0" y="608.1" width="1.25" height="1.25" opacity="0.95"/>
<rect x="61.6" y="609.8" width="1.25" height="1.25" opacity="0.75"/>
<rect x="63.1" y="609.3" width="1.25" height="1.25" opacity="0.59"/>
<rect x="64.5" y="609.7" width="1.25" height="1.25" opacity="0.79"/>
<rect x="66.8" y="609.5" width="1.25" height="1.25" opacity="0.61"/>
<rect x="60.7" y="610.7" width="1.25" height="1.25" opacity="0.68"/>
<rect x="62.2" y="611.4" width="1.25" height="1.25" opacity="0.74"/>
<rect x="65.4" y="611.3" width="1.25" height="1.25" opacity="0.64"/>
<rect x="67.3" y="611.2" width="1.25" height="1.25" opacity="0.66"/>
<rect x="60.6" y="612.7" width="1.25" height="1.25" opacity="0.87"/>
<rect x="62.0" y="612.8" width="1.25" height="1.25" opacity="0.78"/>
<rect x="65.9" y="613.1" width="1.25" height="1.25" opacity="0.72"/>
<rect x="67.2" y="612.6" width="1.25" height="1.25" opacity="0.76"/>
<rect x="60.4" y="614.2" width="1.25" height="1.25" opacity="0.79"/>
<rect x="62.6" y="614.8" width="1.25" height="1.25" opacity="0.72"/>
<rect x="63.9" y="614.1" width="1.25" height="1.25" opacity="0.77"/>
<rect x="67.2" y="614.1" width="1.25" height="1.25" opacity="0.52"/>
<rect x="62.8" y="616.5" width="1.25" height="1.25" opacity="0.58"/>
<rect x="64.8" y="615.8" width="1.25" height="1.25" opacity="0.86"/>
<rect x="66.6" y="616.2" width="1.25" height="1.25" opacity="0.74"/>
<rect x="63.1" y="618.1" width="1.25" height="1.25" opacity="0.57"/>
<rect x="64.9" y="617.6" width="1.25" height="1.25" opacity="0.86"/>
<rect x="64.9" y="620.0" width="1.25" height="1.25" opacity="0.72"/>
</g>
<line x1="55.40" y1="594.10" x2="75.00" y2="594.10" stroke="#1467c4" stroke-width="2.5" />
<g fill="#3cc06c">
<rect x="93.4" y="569.4" width="1.25" height="1.25" opacity="0.85"/>
<rect x="93.2" y="571.1" width="1.25" height="1.25" opacity="0.77"/>
<rect x="94.5" y="577.8" width="1.25" height="1.25" opacity="0.92"/>
<rect x="93.3" y="581.8" width="1.25" height="1.25" opacity="0.68"/>
<rect x="90.8" y="586.0" width="1.25" height="1.25" opacity="0.75"/>
<rect x="92.9" y="585.5" width="1.25" height="1.25" opacity="0.54"/>
<rect x="94.3" y="585.7" width="1.25" height="1.25" opacity="0.75"/>
<rect x="96.2" y="585.4" width="1.25" height="1.25" opacity="0.73"/>
<rect x="93.8" y="587.1" width="1.25" height="1.25" opacity="0.73"/>
<rect x="95.5" y="587.7" width="1.25" height="1.25" opacity="0.78"/>
<rect x="92.0" y="589.1" width="1.25" height="1.25" opacity="0.94"/>
<rect x="93.6" y="588.7" width="1.25" height="1.25" opacity="0.67"/>
<rect x="95.2" y="588.7" width="1.25" height="1.25" opacity="0.52"/>
<rect x="88.2" y="591.4" width="1.25" height="1.25" opacity="0.91"/>
<rect x="90.5" y="591.4" width="1.25" height="1.25" opacity="0.55"/>
<rect x="91.8" y="591.6" width="1.25" height="1.25" opacity="0.88"/>
<rect x="95.0" y="591.5" width="1.25" height="1.25" opacity="0.61"/>
<rect x="97.0" y="591.6" width="1.25" height="1.25" opacity="0.72"/>
<rect x="89.4" y="593.6" width="1.25" height="1.25" opacity="0.55"/>
<rect x="92.6" y="593.1" width="1.25" height="1.25" opacity="0.70"/>
<rect x="95.9" y="593.0" width="1.25" height="1.25" opacity="0.55"/>
<rect x="90.4" y="596.3" width="1.25" height="1.25" opacity="0.80"/>
<rect x="93.4" y="596.4" width="1.25" height="1.25" opacity="0.84"/>
<rect x="95.2" y="595.6" width="1.25" height="1.25" opacity="0.95"/>
<rect x="97.0" y="595.6" width="1.25" height="1.25" opacity="0.88"/>
<rect x="90.4" y="597.8" width="1.25" height="1.25" opacity="0.68"/>
<rect x="91.7" y="598.0" width="1.25" height="1.25" opacity="0.68"/>
<rect x="95.0" y="597.5" width="1.25" height="1.25" opacity="0.60"/>
<rect x="85.3" y="598.6" width="1.25" height="1.25" opacity="0.65"/>
<rect x="87.0" y="598.2" width="1.25" height="1.25" opacity="0.65"/>
<rect x="88.3" y="598.2" width="1.25" height="1.25" opacity="0.89"/>
<rect x="90.3" y="598.6" width="1.25" height="1.25" opacity="0.56"/>
<rect x="91.6" y="598.8" width="1.25" height="1.25" opacity="0.66"/>
<rect x="93.6" y="598.1" width="1.25" height="1.25" opacity="0.81"/>
<rect x="98.5" y="598.3" width="1.25" height="1.25" opacity="0.76"/>
<rect x="100.6" y="598.6" width="1.25" height="1.25" opacity="0.61"/>
<rect x="101.9" y="598.0" width="1.25" height="1.25" opacity="0.93"/>
<rect x="85.9" y="600.2" width="1.25" height="1.25" opacity="0.66"/>
<rect x="87.6" y="599.7" width="1.25" height="1.25" opacity="0.65"/>
<rect x="89.6" y="600.1" width="1.25" height="1.25" opacity="0.67"/>
<rect x="90.9" y="600.0" width="1.25" height="1.25" opacity="0.56"/>
<rect x="92.9" y="600.0" width="1.25" height="1.25" opacity="0.70"/>
<rect x="94.3" y="599.8" width="1.25" height="1.25" opacity="0.53"/>
<rect x="96.0" y="600.3" width="1.25" height="1.25" opacity="0.75"/>
<rect x="99.8" y="600.1" width="1.25" height="1.25" opacity="0.54"/>
<rect x="101.3" y="600.5" width="1.25" height="1.25" opacity="0.66"/>
<rect x="86.2" y="602.0" width="1.25" height="1.25" opacity="0.64"/>
<rect x="87.9" y="601.8" width="1.25" height="1.25" opacity="0.84"/>
<rect x="89.2" y="601.4" width="1.25" height="1.25" opacity="0.52"/>
<rect x="91.3" y="601.6" width="1.25" height="1.25" opacity="0.73"/>
<rect x="92.6" y="601.4" width="1.25" height="1.25" opacity="0.56"/>
<rect x="94.2" y="602.0" width="1.25" height="1.25" opacity="0.76"/>
<rect x="95.8" y="601.6" width="1.25" height="1.25" opacity="0.79"/>
<rect x="97.7" y="601.4" width="1.25" height="1.25" opacity="0.64"/>
<rect x="101.2" y="601.9" width="1.25" height="1.25" opacity="0.86"/>
<rect x="85.0" y="603.1" width="1.25" height="1.25" opacity="0.78"/>
<rect x="86.8" y="603.6" width="1.25" height="1.25" opacity="0.62"/>
<rect x="88.2" y="603.8" width="1.25" height="1.25" opacity="0.75"/>
<rect x="91.9" y="603.7" width="1.25" height="1.25" opacity="0.65"/>
<rect x="93.4" y="603.2" width="1.25" height="1.25" opacity="0.85"/>
<rect x="95.5" y="603.4" width="1.25" height="1.25" opacity="0.74"/>
<rect x="97.0" y="603.6" width="1.25" height="1.25" opacity="0.77"/>
<rect x="98.8" y="603.3" width="1.25" height="1.25" opacity="0.82"/>
<rect x="100.5" y="603.3" width="1.25" height="1.25" opacity="0.85"/>
<rect x="84.1" y="603.9" width="1.25" height="1.25" opacity="0.62"/>
<rect x="86.0" y="603.6" width="1.25" height="1.25" opacity="0.86"/>
<rect x="89.4" y="603.8" width="1.25" height="1.25" opacity="0.94"/>
<rect x="92.5" y="603.9" width="1.25" height="1.25" opacity="0.59"/>
<rect x="94.3" y="604.0" width="1.25" height="1.25" opacity="0.83"/>
<rect x="101.2" y="603.8" width="1.25" height="1.25" opacity="0.82"/>
<rect x="103.1" y="603.6" width="1.25" height="1.25" opacity="0.91"/>
<rect x="84.1" y="605.9" width="1.25" height="1.25" opacity="0.55"/>
<rect x="85.7" y="605.7" width="1.25" height="1.25" opacity="0.68"/>
<rect x="89.4" y="605.5" width="1.25" height="1.25" opacity="0.91"/>
<rect x="92.6" y="605.4" width="1.25" height="1.25" opacity="0.62"/>
<rect x="94.3" y="605.3" width="1.25" height="1.25" opacity="0.84"/>
<rect x="96.0" y="606.0" width="1.25" height="1.25" opacity="0.60"/>
<rect x="97.6" y="605.9" width="1.25" height="1.25" opacity="0.89"/>
<rect x="99.7" y="605.8" width="1.25" height="1.25" opacity="0.63"/>
<rect x="101.2" y="605.9" width="1.25" height="1.25" opacity="0.57"/>
<rect x="103.0" y="605.5" width="1.25" height="1.25" opacity="0.76"/>
<rect x="88.2" y="607.4" width="1.25" height="1.25" opacity="0.70"/>
<rect x="90.0" y="607.5" width="1.25" height="1.25" opacity="0.81"/>
<rect x="93.8" y="606.9" width="1.25" height="1.25" opacity="0.64"/>
<rect x="95.2" y="607.4" width="1.25" height="1.25" opacity="0.71"/>
<rect x="96.9" y="607.3" width="1.25" height="1.25" opacity="0.80"/>
<rect x="98.6" y="607.5" width="1.25" height="1.25" opacity="0.76"/>
<rect x="100.5" y="606.8" width="1.25" height="1.25" opacity="0.56"/>
<rect x="86.9" y="609.1" width="1.25" height="1.25" opacity="0.52"/>
<rect x="89.9" y="609.2" width="1.25" height="1.25" opacity="0.94"/>
<rect x="91.6" y="608.7" width="1.25" height="1.25" opacity="0.74"/>
<rect x="93.6" y="609.3" width="1.25" height="1.25" opacity="0.74"/>
<rect x="99.0" y="609.2" width="1.25" height="1.25" opacity="0.94"/>
<rect x="100.1" y="609.0" width="1.25" height="1.25" opacity="0.51"/>
<rect x="87.4" y="610.6" width="1.25" height="1.25" opacity="0.68"/>
<rect x="89.2" y="610.2" width="1.25" height="1.25" opacity="0.81"/>
<rect x="91.1" y="610.6" width="1.25" height="1.25" opacity="0.81"/>
<rect x="96.1" y="610.4" width="1.25" height="1.25" opacity="0.69"/>
<rect x="99.5" y="610.5" width="1.25" height="1.25" opacity="0.56"/>
<rect x="86.8" y="612.7" width="1.25" height="1.25" opacity="0.81"/>
<rect x="88.8" y="612.5" width="1.25" height="1.25" opacity="0.80"/>
<rect x="90.2" y="611.9" width="1.25" height="1.25" opacity="0.82"/>
<rect x="91.9" y="612.4" width="1.25" height="1.25" opacity="0.70"/>
<rect x="93.5" y="612.3" width="1.25" height="1.25" opacity="0.71"/>
<rect x="95.3" y="612.1" width="1.25" height="1.25" opacity="0.75"/>
<rect x="97.2" y="612.5" width="1.25" height="1.25" opacity="0.89"/>
<rect x="98.4" y="612.7" width="1.25" height="1.25" opacity="0.62"/>
<rect x="100.6" y="611.9" width="1.25" height="1.25" opacity="0.86"/>
<rect x="91.7" y="614.6" width="1.25" height="1.25" opacity="0.89"/>
<rect x="93.6" y="614.4" width="1.25" height="1.25" opacity="0.95"/>
<rect x="95.4" y="614.3" width="1.25" height="1.25" opacity="0.59"/>
<rect x="96.9" y="614.5" width="1.25" height="1.25" opacity="0.57"/>
<rect x="89.6" y="616.4" width="1.25" height="1.25" opacity="0.79"/>
<rect x="92.6" y="616.4" width="1.25" height="1.25" opacity="0.69"/>
<rect x="94.5" y="616.0" width="1.25" height="1.25" opacity="0.66"/>
<rect x="96.1" y="615.9" width="1.25" height="1.25" opacity="0.80"/>
<rect x="97.7" y="616.0" width="1.25" height="1.25" opacity="0.55"/>
<rect x="89.1" y="617.8" width="1.25" height="1.25" opacity="0.50"/>
<rect x="91.0" y="617.9" width="1.25" height="1.25" opacity="0.78"/>
<rect x="92.9" y="617.6" width="1.25" height="1.25" opacity="0.75"/>
<rect x="94.3" y="617.8" width="1.25" height="1.25" opacity="0.64"/>
<rect x="96.4" y="617.6" width="1.25" height="1.25" opacity="0.62"/>
<rect x="97.8" y="617.8" width="1.25" height="1.25" opacity="0.54"/>
<rect x="90.4" y="619.6" width="1.25" height="1.25" opacity="0.67"/>
<rect x="91.8" y="619.4" width="1.25" height="1.25" opacity="0.82"/>
<rect x="93.5" y="619.6" width="1.25" height="1.25" opacity="0.86"/>
<rect x="95.2" y="619.5" width="1.25" height="1.25" opacity="0.92"/>
<rect x="97.3" y="619.6" width="1.25" height="1.25" opacity="0.67"/>
</g>
<line x1="84.20" y1="605.10" x2="103.80" y2="605.10" stroke="#12a548" stroke-width="2.5" />
<g fill="#ff4a3c">
<rect x="121.7" y="573.6" width="1.25" height="1.25" opacity="0.80"/>
<rect x="119.6" y="575.5" width="1.25" height="1.25" opacity="0.79"/>
<rect x="123.1" y="575.5" width="1.25" height="1.25" opacity="0.82"/>
<rect x="125.0" y="574.9" width="1.25" height="1.25" opacity="0.53"/>
<rect x="119.6" y="577.1" width="1.25" height="1.25" opacity="0.80"/>
<rect x="122.7" y="577.0" width="1.25" height="1.25" opacity="0.75"/>
<rect x="119.5" y="580.8" width="1.25" height="1.25" opacity="0.87"/>
<rect x="121.1" y="581.4" width="1.25" height="1.25" opacity="0.75"/>
<rect x="123.1" y="581.3" width="1.25" height="1.25" opacity="0.72"/>
<rect x="124.8" y="581.1" width="1.25" height="1.25" opacity="0.76"/>
<rect x="122.9" y="582.9" width="1.25" height="1.25" opacity="0.50"/>
<rect x="119.4" y="585.3" width="1.25" height="1.25" opacity="0.80"/>
<rect x="121.3" y="585.7" width="1.25" height="1.25" opacity="0.81"/>
<rect x="122.9" y="585.3" width="1.25" height="1.25" opacity="0.70"/>
<rect x="124.6" y="585.1" width="1.25" height="1.25" opacity="0.59"/>
<rect x="121.5" y="586.8" width="1.25" height="1.25" opacity="0.92"/>
<rect x="123.0" y="587.2" width="1.25" height="1.25" opacity="0.80"/>
<rect x="120.4" y="593.4" width="1.25" height="1.25" opacity="0.65"/>
<rect x="122.4" y="593.2" width="1.25" height="1.25" opacity="0.82"/>
<rect x="121.5" y="596.1" width="1.25" height="1.25" opacity="0.59"/>
<rect x="123.2" y="596.1" width="1.25" height="1.25" opacity="0.56"/>
<rect x="124.0" y="598.3" width="1.25" height="1.25" opacity="0.57"/>
<rect x="122.4" y="603.9" width="1.25" height="1.25" opacity="0.55"/>
<rect x="121.9" y="605.5" width="1.25" height="1.25" opacity="0.60"/>
<rect x="119.4" y="609.5" width="1.25" height="1.25" opacity="0.52"/>
<rect x="122.9" y="609.4" width="1.25" height="1.25" opacity="0.64"/>
<rect x="124.5" y="609.7" width="1.25" height="1.25" opacity="0.65"/>
<rect x="120.7" y="611.5" width="1.25" height="1.25" opacity="0.68"/>
<rect x="122.1" y="611.2" width="1.25" height="1.25" opacity="0.60"/>
<rect x="123.6" y="611.0" width="1.25" height="1.25" opacity="0.83"/>
<rect x="119.6" y="612.4" width="1.25" height="1.25" opacity="0.66"/>
<rect x="121.2" y="612.9" width="1.25" height="1.25" opacity="0.74"/>
<rect x="123.0" y="612.4" width="1.25" height="1.25" opacity="0.85"/>
</g>
<line x1="112.90" y1="592.00" x2="132.60" y2="592.00" stroke="#ff1e14" stroke-width="2.0" />
<g fill="#f257a6">
<rect x="150.7" y="579.4" width="1.25" height="1.25" opacity="0.62"/>
<rect x="150.9" y="584.5" width="1.25" height="1.25" opacity="0.81"/>
<rect x="148.5" y="590.7" width="1.25" height="1.25" opacity="0.65"/>
<rect x="151.6" y="590.2" width="1.25" height="1.25" opacity="0.70"/>
<rect x="153.7" y="590.1" width="1.25" height="1.25" opacity="0.85"/>
<rect x="150.1" y="592.3" width="1.25" height="1.25" opacity="0.55"/>
<rect x="151.8" y="591.7" width="1.25" height="1.25" opacity="0.52"/>
<rect x="153.5" y="592.2" width="1.25" height="1.25" opacity="0.69"/>
<rect x="148.6" y="594.0" width="1.25" height="1.25" opacity="0.66"/>
<rect x="149.9" y="593.4" width="1.25" height="1.25" opacity="0.79"/>
<rect x="153.4" y="593.5" width="1.25" height="1.25" opacity="0.61"/>
<rect x="147.6" y="596.7" width="1.25" height="1.25" opacity="0.71"/>
<rect x="149.3" y="597.0" width="1.25" height="1.25" opacity="0.67"/>
<rect x="150.9" y="596.7" width="1.25" height="1.25" opacity="0.56"/>
<rect x="152.9" y="597.0" width="1.25" height="1.25" opacity="0.90"/>
<rect x="154.6" y="597.0" width="1.25" height="1.25" opacity="0.86"/>
<rect x="147.4" y="598.9" width="1.25" height="1.25" opacity="0.57"/>
<rect x="149.0" y="598.6" width="1.25" height="1.25" opacity="0.73"/>
<rect x="151.2" y="598.3" width="1.25" height="1.25" opacity="0.76"/>
<rect x="152.7" y="598.9" width="1.25" height="1.25" opacity="0.82"/>
<rect x="154.2" y="598.8" width="1.25" height="1.25" opacity="0.94"/>
<rect x="147.7" y="600.1" width="1.25" height="1.25" opacity="0.64"/>
<rect x="149.4" y="600.4" width="1.25" height="1.25" opacity="0.58"/>
<rect x="151.2" y="600.6" width="1.25" height="1.25" opacity="0.51"/>
<rect x="152.5" y="600.4" width="1.25" height="1.25" opacity="0.58"/>
<rect x="154.5" y="600.1" width="1.25" height="1.25" opacity="0.92"/>
<rect x="146.5" y="601.7" width="1.25" height="1.25" opacity="0.90"/>
<rect x="148.4" y="601.9" width="1.25" height="1.25" opacity="0.53"/>
<rect x="149.9" y="602.4" width="1.25" height="1.25" opacity="0.52"/>
<rect x="151.8" y="602.2" width="1.25" height="1.25" opacity="0.94"/>
<rect x="153.7" y="602.1" width="1.25" height="1.25" opacity="0.85"/>
<rect x="155.1" y="602.2" width="1.25" height="1.25" opacity="0.64"/>
<rect x="146.1" y="604.6" width="1.25" height="1.25" opacity="0.77"/>
<rect x="147.8" y="604.6" width="1.25" height="1.25" opacity="0.89"/>
<rect x="149.6" y="604.4" width="1.25" height="1.25" opacity="0.93"/>
<rect x="151.3" y="604.6" width="1.25" height="1.25" opacity="0.61"/>
<rect x="154.2" y="604.3" width="1.25" height="1.25" opacity="0.61"/>
<rect x="156.3" y="604.5" width="1.25" height="1.25" opacity="0.82"/>
<rect x="146.7" y="606.2" width="1.25" height="1.25" opacity="0.85"/>
<rect x="148.4" y="606.4" width="1.25" height="1.25" opacity="0.60"/>
<rect x="150.3" y="606.2" width="1.25" height="1.25" opacity="0.91"/>
<rect x="151.7" y="605.9" width="1.25" height="1.25" opacity="0.77"/>
<rect x="146.8" y="607.7" width="1.25" height="1.25" opacity="0.65"/>
<rect x="148.3" y="608.1" width="1.25" height="1.25" opacity="0.78"/>
<rect x="149.9" y="607.6" width="1.25" height="1.25" opacity="0.82"/>
<rect x="151.9" y="608.0" width="1.25" height="1.25" opacity="0.55"/>
<rect x="153.2" y="608.0" width="1.25" height="1.25" opacity="0.58"/>
<rect x="155.5" y="607.7" width="1.25" height="1.25" opacity="0.60"/>
<rect x="141.5" y="609.3" width="1.25" height="1.25" opacity="0.86"/>
<rect x="143.5" y="609.3" width="1.25" height="1.25" opacity="0.68"/>
<rect x="145.2" y="608.7" width="1.25" height="1.25" opacity="0.61"/>
<rect x="146.8" y="609.2" width="1.25" height="1.25" opacity="0.80"/>
<rect x="150.3" y="609.1" width="1.25" height="1.25" opacity="0.56"/>
<rect x="151.7" y="608.9" width="1.25" height="1.25" opacity="0.73"/>
<rect x="153.4" y="608.8" width="1.25" height="1.25" opacity="0.64"/>
<rect x="155.3" y="609.3" width="1.25" height="1.25" opacity="0.86"/>
<rect x="157.0" y="609.0" width="1.25" height="1.25" opacity="0.81"/>
<rect x="158.9" y="609.3" width="1.25" height="1.25" opacity="0.55"/>
<rect x="160.2" y="609.0" width="1.25" height="1.25" opacity="0.57"/>
<rect x="141.5" y="610.4" width="1.25" height="1.25" opacity="0.93"/>
<rect x="145.1" y="610.7" width="1.25" height="1.25" opacity="0.52"/>
<rect x="146.9" y="610.8" width="1.25" height="1.25" opacity="0.63"/>
<rect x="148.3" y="610.7" width="1.25" height="1.25" opacity="0.69"/>
<rect x="152.0" y="610.8" width="1.25" height="1.25" opacity="0.67"/>
<rect x="155.3" y="610.5" width="1.25" height="1.25" opacity="0.57"/>
<rect x="157.1" y="610.9" width="1.25" height="1.25" opacity="0.66"/>
<rect x="158.6" y="611.0" width="1.25" height="1.25" opacity="0.57"/>
<rect x="160.1" y="610.5" width="1.25" height="1.25" opacity="0.52"/>
<rect x="143.2" y="612.5" width="1.25" height="1.25" opacity="0.62"/>
<rect x="146.8" y="612.7" width="1.25" height="1.25" opacity="0.68"/>
<rect x="148.3" y="612.2" width="1.25" height="1.25" opacity="0.86"/>
<rect x="149.9" y="612.7" width="1.25" height="1.25" opacity="0.78"/>
<rect x="151.8" y="612.1" width="1.25" height="1.25" opacity="0.90"/>
<rect x="153.4" y="612.4" width="1.25" height="1.25" opacity="0.80"/>
<rect x="156.7" y="612.3" width="1.25" height="1.25" opacity="0.82"/>
<rect x="158.8" y="612.7" width="1.25" height="1.25" opacity="0.55"/>
<rect x="160.0" y="612.4" width="1.25" height="1.25" opacity="0.81"/>
<rect x="141.9" y="613.9" width="1.25" height="1.25" opacity="0.61"/>
<rect x="143.4" y="614.3" width="1.25" height="1.25" opacity="0.81"/>
<rect x="145.2" y="613.8" width="1.25" height="1.25" opacity="0.64"/>
<rect x="147.0" y="614.2" width="1.25" height="1.25" opacity="0.81"/>
<rect x="148.4" y="614.4" width="1.25" height="1.25" opacity="0.83"/>
<rect x="150.1" y="614.3" width="1.25" height="1.25" opacity="0.66"/>
<rect x="152.0" y="614.1" width="1.25" height="1.25" opacity="0.73"/>
<rect x="153.8" y="613.8" width="1.25" height="1.25" opacity="0.65"/>
<rect x="155.2" y="614.1" width="1.25" height="1.25" opacity="0.88"/>
<rect x="157.0" y="614.0" width="1.25" height="1.25" opacity="0.76"/>
<rect x="158.8" y="614.3" width="1.25" height="1.25" opacity="0.88"/>
<rect x="160.4" y="614.3" width="1.25" height="1.25" opacity="0.73"/>
<rect x="148.6" y="615.5" width="1.25" height="1.25" opacity="0.90"/>
<rect x="150.2" y="615.5" width="1.25" height="1.25" opacity="0.78"/>
<rect x="151.6" y="615.5" width="1.25" height="1.25" opacity="0.87"/>
<rect x="153.4" y="615.2" width="1.25" height="1.25" opacity="0.54"/>
<rect x="155.5" y="615.6" width="1.25" height="1.25" opacity="0.66"/>
<rect x="146.1" y="616.8" width="1.25" height="1.25" opacity="0.71"/>
<rect x="147.5" y="617.1" width="1.25" height="1.25" opacity="0.94"/>
<rect x="149.3" y="616.7" width="1.25" height="1.25" opacity="0.74"/>
<rect x="151.0" y="616.9" width="1.25" height="1.25" opacity="0.92"/>
<rect x="154.2" y="617.1" width="1.25" height="1.25" opacity="0.87"/>
<rect x="156.4" y="617.1" width="1.25" height="1.25" opacity="0.82"/>
<rect x="147.3" y="618.4" width="1.25" height="1.25" opacity="0.69"/>
<rect x="149.4" y="618.6" width="1.25" height="1.25" opacity="0.76"/>
<rect x="151.0" y="618.4" width="1.25" height="1.25" opacity="0.60"/>
<rect x="148.7" y="619.7" width="1.25" height="1.25" opacity="0.72"/>
<rect x="150.1" y="620.2" width="1.25" height="1.25" opacity="0.82"/>
<rect x="151.7" y="619.8" width="1.25" height="1.25" opacity="0.68"/>
<rect x="153.3" y="620.3" width="1.25" height="1.25" opacity="0.73"/>
<rect x="155.0" y="620.2" width="1.25" height="1.25" opacity="0.59"/>
<rect x="146.9" y="622.0" width="1.25" height="1.25" opacity="0.63"/>
<rect x="148.1" y="622.0" width="1.25" height="1.25" opacity="0.78"/>
<rect x="150.0" y="621.7" width="1.25" height="1.25" opacity="0.88"/>
<rect x="152.0" y="621.8" width="1.25" height="1.25" opacity="0.75"/>
<rect x="153.6" y="621.6" width="1.25" height="1.25" opacity="0.66"/>
<rect x="155.4" y="621.9" width="1.25" height="1.25" opacity="0.69"/>
<rect x="149.0" y="623.2" width="1.25" height="1.25" opacity="0.57"/>
<rect x="151.0" y="623.9" width="1.25" height="1.25" opacity="0.91"/>
<rect x="152.7" y="623.7" width="1.25" height="1.25" opacity="0.56"/>
<rect x="154.4" y="623.5" width="1.25" height="1.25" opacity="0.59"/>
<rect x="150.4" y="624.0" width="1.25" height="1.25" opacity="0.86"/>
<rect x="151.3" y="630.8" width="1.25" height="1.25" opacity="0.65"/>
</g>
<line x1="141.90" y1="611.30" x2="161.30" y2="611.30" stroke="#ea2a8e" stroke-width="2.5" />
<g fill="#48adf0">
<rect x="179.1" y="569.2" width="1.25" height="1.25" opacity="0.59"/>
<rect x="179.1" y="572.6" width="1.25" height="1.25" opacity="0.83"/>
<rect x="179.1" y="576.0" width="1.25" height="1.25" opacity="0.86"/>
<rect x="179.7" y="578.7" width="1.25" height="1.25" opacity="0.85"/>
<rect x="178.2" y="580.4" width="1.25" height="1.25" opacity="0.55"/>
<rect x="181.2" y="580.4" width="1.25" height="1.25" opacity="0.76"/>
<rect x="179.8" y="584.2" width="1.25" height="1.25" opacity="0.95"/>
<rect x="180.3" y="585.9" width="1.25" height="1.25" opacity="0.77"/>
<rect x="176.5" y="588.4" width="1.25" height="1.25" opacity="0.50"/>
<rect x="178.1" y="587.9" width="1.25" height="1.25" opacity="0.83"/>
<rect x="179.5" y="588.4" width="1.25" height="1.25" opacity="0.59"/>
<rect x="181.4" y="588.0" width="1.25" height="1.25" opacity="0.92"/>
<rect x="178.2" y="589.6" width="1.25" height="1.25" opacity="0.57"/>
<rect x="179.8" y="589.5" width="1.25" height="1.25" opacity="0.94"/>
<rect x="181.2" y="590.0" width="1.25" height="1.25" opacity="0.57"/>
<rect x="182.8" y="590.0" width="1.25" height="1.25" opacity="0.90"/>
<rect x="170.9" y="591.7" width="1.25" height="1.25" opacity="0.54"/>
<rect x="172.9" y="591.8" width="1.25" height="1.25" opacity="0.74"/>
<rect x="174.7" y="591.7" width="1.25" height="1.25" opacity="0.71"/>
<rect x="176.3" y="591.3" width="1.25" height="1.25" opacity="0.58"/>
<rect x="178.2" y="591.3" width="1.25" height="1.25" opacity="0.82"/>
<rect x="179.8" y="592.0" width="1.25" height="1.25" opacity="0.78"/>
<rect x="181.4" y="591.7" width="1.25" height="1.25" opacity="0.54"/>
<rect x="183.3" y="592.0" width="1.25" height="1.25" opacity="0.54"/>
<rect x="184.7" y="591.4" width="1.25" height="1.25" opacity="0.72"/>
<rect x="186.4" y="591.3" width="1.25" height="1.25" opacity="0.54"/>
<rect x="188.3" y="591.8" width="1.25" height="1.25" opacity="0.60"/>
<rect x="170.3" y="593.4" width="1.25" height="1.25" opacity="0.79"/>
<rect x="173.9" y="593.6" width="1.25" height="1.25" opacity="0.88"/>
<rect x="175.1" y="593.4" width="1.25" height="1.25" opacity="0.88"/>
<rect x="177.4" y="593.0" width="1.25" height="1.25" opacity="0.92"/>
<rect x="178.9" y="593.1" width="1.25" height="1.25" opacity="0.64"/>
<rect x="180.4" y="593.0" width="1.25" height="1.25" opacity="0.70"/>
<rect x="184.2" y="593.5" width="1.25" height="1.25" opacity="0.88"/>
<rect x="187.2" y="593.1" width="1.25" height="1.25" opacity="0.69"/>
<rect x="188.9" y="593.6" width="1.25" height="1.25" opacity="0.91"/>
<rect x="170.5" y="594.8" width="1.25" height="1.25" opacity="0.65"/>
<rect x="171.8" y="594.6" width="1.25" height="1.25" opacity="0.88"/>
<rect x="173.6" y="594.6" width="1.25" height="1.25" opacity="0.55"/>
<rect x="175.3" y="594.6" width="1.25" height="1.25" opacity="0.80"/>
<rect x="177.4" y="595.3" width="1.25" height="1.25" opacity="0.73"/>
<rect x="178.9" y="595.1" width="1.25" height="1.25" opacity="0.60"/>
<rect x="180.8" y="595.1" width="1.25" height="1.25" opacity="0.69"/>
<rect x="182.5" y="595.1" width="1.25" height="1.25" opacity="0.78"/>
<rect x="184.2" y="594.8" width="1.25" height="1.25" opacity="0.68"/>
<rect x="185.9" y="594.6" width="1.25" height="1.25" opacity="0.89"/>
<rect x="187.4" y="595.1" width="1.25" height="1.25" opacity="0.83"/>
<rect x="188.8" y="594.6" width="1.25" height="1.25" opacity="0.68"/>
<rect x="170.9" y="596.3" width="1.25" height="1.25" opacity="0.66"/>
<rect x="172.6" y="596.7" width="1.25" height="1.25" opacity="0.94"/>
<rect x="174.4" y="596.9" width="1.25" height="1.25" opacity="0.58"/>
<rect x="176.2" y="596.6" width="1.25" height="1.25" opacity="0.81"/>
<rect x="178.1" y="596.4" width="1.25" height="1.25" opacity="0.92"/>
<rect x="179.9" y="596.3" width="1.25" height="1.25" opacity="0.87"/>
<rect x="181.6" y="596.9" width="1.25" height="1.25" opacity="0.80"/>
<rect x="182.8" y="596.4" width="1.25" height="1.25" opacity="0.91"/>
<rect x="184.9" y="596.7" width="1.25" height="1.25" opacity="0.80"/>
<rect x="186.3" y="596.4" width="1.25" height="1.25" opacity="0.94"/>
<rect x="188.3" y="596.7" width="1.25" height="1.25" opacity="0.60"/>
<rect x="174.4" y="599.3" width="1.25" height="1.25" opacity="0.92"/>
<rect x="176.3" y="598.7" width="1.25" height="1.25" opacity="0.67"/>
<rect x="177.9" y="598.7" width="1.25" height="1.25" opacity="0.80"/>
<rect x="183.2" y="599.3" width="1.25" height="1.25" opacity="0.51"/>
<rect x="185.0" y="599.2" width="1.25" height="1.25" opacity="0.88"/>
<rect x="174.6" y="601.0" width="1.25" height="1.25" opacity="0.52"/>
<rect x="176.5" y="600.5" width="1.25" height="1.25" opacity="0.51"/>
<rect x="177.7" y="600.6" width="1.25" height="1.25" opacity="0.82"/>
<rect x="179.4" y="600.7" width="1.25" height="1.25" opacity="0.58"/>
<rect x="181.3" y="600.4" width="1.25" height="1.25" opacity="0.53"/>
<rect x="183.1" y="601.0" width="1.25" height="1.25" opacity="0.75"/>
<rect x="184.6" y="600.9" width="1.25" height="1.25" opacity="0.75"/>
<rect x="174.0" y="603.4" width="1.25" height="1.25" opacity="0.61"/>
<rect x="175.6" y="603.1" width="1.25" height="1.25" opacity="0.54"/>
<rect x="177.4" y="603.3" width="1.25" height="1.25" opacity="0.83"/>
<rect x="178.8" y="603.2" width="1.25" height="1.25" opacity="0.59"/>
<rect x="180.4" y="603.1" width="1.25" height="1.25" opacity="0.94"/>
<rect x="182.0" y="603.0" width="1.25" height="1.25" opacity="0.79"/>
<rect x="183.6" y="603.4" width="1.25" height="1.25" opacity="0.83"/>
<rect x="185.5" y="603.4" width="1.25" height="1.25" opacity="0.77"/>
<rect x="173.9" y="605.4" width="1.25" height="1.25" opacity="0.83"/>
<rect x="177.4" y="604.8" width="1.25" height="1.25" opacity="0.60"/>
<rect x="179.1" y="604.7" width="1.25" height="1.25" opacity="0.60"/>
<rect x="180.5" y="604.8" width="1.25" height="1.25" opacity="0.59"/>
<rect x="182.3" y="605.4" width="1.25" height="1.25" opacity="0.68"/>
<rect x="183.6" y="605.4" width="1.25" height="1.25" opacity="0.60"/>
<rect x="185.6" y="605.4" width="1.25" height="1.25" opacity="0.72"/>
<rect x="172.7" y="607.0" width="1.25" height="1.25" opacity="0.59"/>
<rect x="176.1" y="607.1" width="1.25" height="1.25" opacity="0.64"/>
<rect x="177.9" y="606.9" width="1.25" height="1.25" opacity="0.51"/>
<rect x="179.5" y="607.0" width="1.25" height="1.25" opacity="0.50"/>
<rect x="181.2" y="606.7" width="1.25" height="1.25" opacity="0.75"/>
<rect x="182.9" y="606.6" width="1.25" height="1.25" opacity="0.55"/>
<rect x="186.3" y="606.8" width="1.25" height="1.25" opacity="0.76"/>
<rect x="172.8" y="608.1" width="1.25" height="1.25" opacity="0.87"/>
<rect x="174.4" y="608.5" width="1.25" height="1.25" opacity="0.60"/>
<rect x="176.4" y="608.8" width="1.25" height="1.25" opacity="0.82"/>
<rect x="177.9" y="608.7" width="1.25" height="1.25" opacity="0.94"/>
<rect x="181.5" y="608.2" width="1.25" height="1.25" opacity="0.56"/>
<rect x="183.0" y="608.3" width="1.25" height="1.25" opacity="0.80"/>
<rect x="184.8" y="608.4" width="1.25" height="1.25" opacity="0.72"/>
<rect x="186.6" y="608.4" width="1.25" height="1.25" opacity="0.73"/>
<rect x="176.3" y="610.0" width="1.25" height="1.25" opacity="0.67"/>
<rect x="181.3" y="610.5" width="1.25" height="1.25" opacity="0.62"/>
<rect x="176.3" y="612.0" width="1.25" height="1.25" opacity="0.86"/>
<rect x="178.0" y="612.0" width="1.25" height="1.25" opacity="0.82"/>
<rect x="179.5" y="612.2" width="1.25" height="1.25" opacity="0.85"/>
<rect x="181.3" y="612.2" width="1.25" height="1.25" opacity="0.59"/>
<rect x="183.4" y="612.2" width="1.25" height="1.25" opacity="0.60"/>
<rect x="175.4" y="613.5" width="1.25" height="1.25" opacity="0.95"/>
<rect x="177.4" y="613.3" width="1.25" height="1.25" opacity="0.73"/>
<rect x="180.6" y="613.6" width="1.25" height="1.25" opacity="0.70"/>
<rect x="182.3" y="613.5" width="1.25" height="1.25" opacity="0.84"/>
<rect x="184.1" y="613.7" width="1.25" height="1.25" opacity="0.80"/>
<rect x="176.0" y="615.4" width="1.25" height="1.25" opacity="0.63"/>
<rect x="177.8" y="615.1" width="1.25" height="1.25" opacity="0.77"/>
<rect x="179.6" y="615.6" width="1.25" height="1.25" opacity="0.79"/>
<rect x="181.1" y="615.2" width="1.25" height="1.25" opacity="0.80"/>
<rect x="182.8" y="615.6" width="1.25" height="1.25" opacity="0.77"/>
<rect x="180.3" y="616.3" width="1.25" height="1.25" opacity="0.58"/>
<rect x="177.8" y="618.2" width="1.25" height="1.25" opacity="0.82"/>
<rect x="181.1" y="618.7" width="1.25" height="1.25" opacity="0.94"/>
<rect x="177.7" y="620.0" width="1.25" height="1.25" opacity="0.63"/>
<rect x="178.6" y="621.5" width="1.25" height="1.25" opacity="0.54"/>
<rect x="180.0" y="625.8" width="1.25" height="1.25" opacity="0.79"/>
</g>
<line x1="170.40" y1="598.70" x2="190.10" y2="598.70" stroke="#1496e6" stroke-width="2.5" />
<g fill="#83ca45">
<rect x="208.6" y="576.7" width="1.25" height="1.25" opacity="0.58"/>
<rect x="208.2" y="581.8" width="1.25" height="1.25" opacity="0.78"/>
<rect x="205.7" y="589.6" width="1.25" height="1.25" opacity="0.53"/>
<rect x="207.5" y="589.5" width="1.25" height="1.25" opacity="0.86"/>
<rect x="209.4" y="590.0" width="1.25" height="1.25" opacity="0.78"/>
<rect x="205.8" y="591.2" width="1.25" height="1.25" opacity="0.76"/>
<rect x="207.8" y="591.3" width="1.25" height="1.25" opacity="0.62"/>
<rect x="209.4" y="591.7" width="1.25" height="1.25" opacity="0.51"/>
<rect x="211.0" y="591.3" width="1.25" height="1.25" opacity="0.79"/>
<rect x="206.3" y="592.9" width="1.25" height="1.25" opacity="0.64"/>
<rect x="207.6" y="592.9" width="1.25" height="1.25" opacity="0.60"/>
<rect x="209.6" y="593.3" width="1.25" height="1.25" opacity="0.93"/>
<rect x="211.0" y="593.0" width="1.25" height="1.25" opacity="0.82"/>
<rect x="208.5" y="594.2" width="1.25" height="1.25" opacity="0.61"/>
<rect x="210.4" y="594.2" width="1.25" height="1.25" opacity="0.51"/>
<rect x="207.7" y="596.1" width="1.25" height="1.25" opacity="0.66"/>
<rect x="204.1" y="597.0" width="1.25" height="1.25" opacity="0.67"/>
<rect x="205.9" y="597.5" width="1.25" height="1.25" opacity="0.60"/>
<rect x="207.7" y="597.5" width="1.25" height="1.25" opacity="0.85"/>
<rect x="209.4" y="597.7" width="1.25" height="1.25" opacity="0.92"/>
<rect x="210.9" y="597.3" width="1.25" height="1.25" opacity="0.79"/>
<rect x="212.5" y="597.8" width="1.25" height="1.25" opacity="0.91"/>
<rect x="203.6" y="598.7" width="1.25" height="1.25" opacity="0.80"/>
<rect x="206.8" y="599.1" width="1.25" height="1.25" opacity="0.57"/>
<rect x="208.7" y="599.3" width="1.25" height="1.25" opacity="0.51"/>
<rect x="212.0" y="599.2" width="1.25" height="1.25" opacity="0.64"/>
<rect x="204.1" y="601.0" width="1.25" height="1.25" opacity="0.69"/>
<rect x="205.8" y="600.6" width="1.25" height="1.25" opacity="0.94"/>
<rect x="207.6" y="601.0" width="1.25" height="1.25" opacity="0.90"/>
<rect x="211.4" y="600.9" width="1.25" height="1.25" opacity="0.63"/>
<rect x="213.0" y="601.0" width="1.25" height="1.25" opacity="0.56"/>
<rect x="205.4" y="602.5" width="1.25" height="1.25" opacity="0.86"/>
<rect x="206.9" y="602.7" width="1.25" height="1.25" opacity="0.81"/>
<rect x="210.2" y="602.7" width="1.25" height="1.25" opacity="0.88"/>
<rect x="212.1" y="602.1" width="1.25" height="1.25" opacity="0.50"/>
<rect x="213.6" y="602.7" width="1.25" height="1.25" opacity="0.61"/>
<rect x="207.1" y="604.4" width="1.25" height="1.25" opacity="0.62"/>
<rect x="208.5" y="604.1" width="1.25" height="1.25" opacity="0.67"/>
<rect x="210.1" y="604.5" width="1.25" height="1.25" opacity="0.68"/>
<rect x="212.2" y="604.4" width="1.25" height="1.25" opacity="0.61"/>
<rect x="205.3" y="606.1" width="1.25" height="1.25" opacity="0.61"/>
<rect x="206.8" y="606.1" width="1.25" height="1.25" opacity="0.56"/>
<rect x="208.5" y="606.1" width="1.25" height="1.25" opacity="0.66"/>
<rect x="208.8" y="610.1" width="1.25" height="1.25" opacity="0.88"/>
<rect x="213.7" y="610.1" width="1.25" height="1.25" opacity="0.88"/>
<rect x="204.1" y="611.3" width="1.25" height="1.25" opacity="0.90"/>
<rect x="207.6" y="611.7" width="1.25" height="1.25" opacity="0.72"/>
<rect x="209.6" y="611.7" width="1.25" height="1.25" opacity="0.64"/>
<rect x="211.1" y="611.7" width="1.25" height="1.25" opacity="0.90"/>
<rect x="212.7" y="611.5" width="1.25" height="1.25" opacity="0.88"/>
<rect x="204.1" y="613.3" width="1.25" height="1.25" opacity="0.87"/>
<rect x="206.0" y="613.2" width="1.25" height="1.25" opacity="0.90"/>
<rect x="207.5" y="613.2" width="1.25" height="1.25" opacity="0.66"/>
<rect x="210.9" y="613.6" width="1.25" height="1.25" opacity="0.52"/>
<rect x="212.8" y="613.4" width="1.25" height="1.25" opacity="0.69"/>
<rect x="203.3" y="615.0" width="1.25" height="1.25" opacity="0.84"/>
<rect x="205.4" y="615.1" width="1.25" height="1.25" opacity="0.53"/>
<rect x="207.1" y="615.2" width="1.25" height="1.25" opacity="0.57"/>
<rect x="208.3" y="614.9" width="1.25" height="1.25" opacity="0.65"/>
<rect x="212.3" y="615.0" width="1.25" height="1.25" opacity="0.84"/>
<rect x="213.9" y="615.1" width="1.25" height="1.25" opacity="0.67"/>
<rect x="205.4" y="616.7" width="1.25" height="1.25" opacity="0.84"/>
<rect x="208.8" y="616.4" width="1.25" height="1.25" opacity="0.51"/>
<rect x="210.5" y="617.0" width="1.25" height="1.25" opacity="0.93"/>
<rect x="212.2" y="616.7" width="1.25" height="1.25" opacity="0.56"/>
<rect x="206.1" y="618.2" width="1.25" height="1.25" opacity="0.62"/>
<rect x="207.7" y="618.3" width="1.25" height="1.25" opacity="0.54"/>
<rect x="209.3" y="618.5" width="1.25" height="1.25" opacity="0.84"/>
<rect x="211.0" y="618.4" width="1.25" height="1.25" opacity="0.58"/>
<rect x="213.1" y="618.1" width="1.25" height="1.25" opacity="0.76"/>
<rect x="205.3" y="620.2" width="1.25" height="1.25" opacity="0.62"/>
<rect x="210.5" y="620.0" width="1.25" height="1.25" opacity="0.54"/>
<rect x="212.2" y="620.2" width="1.25" height="1.25" opacity="0.56"/>
<rect x="205.9" y="621.1" width="1.25" height="1.25" opacity="0.68"/>
<rect x="208.0" y="620.9" width="1.25" height="1.25" opacity="0.89"/>
<rect x="209.4" y="620.9" width="1.25" height="1.25" opacity="0.79"/>
<rect x="210.9" y="621.1" width="1.25" height="1.25" opacity="0.56"/>
<rect x="206.0" y="622.7" width="1.25" height="1.25" opacity="0.94"/>
<rect x="208.0" y="622.8" width="1.25" height="1.25" opacity="0.59"/>
<rect x="209.2" y="622.5" width="1.25" height="1.25" opacity="0.53"/>
<rect x="211.4" y="622.7" width="1.25" height="1.25" opacity="0.66"/>
<rect x="206.1" y="624.7" width="1.25" height="1.25" opacity="0.79"/>
<rect x="207.9" y="624.5" width="1.25" height="1.25" opacity="0.52"/>
<rect x="209.4" y="624.5" width="1.25" height="1.25" opacity="0.82"/>
<rect x="211.4" y="624.6" width="1.25" height="1.25" opacity="0.57"/>
<rect x="208.5" y="626.5" width="1.25" height="1.25" opacity="0.86"/>
<rect x="210.4" y="626.0" width="1.25" height="1.25" opacity="0.93"/>
</g>
<line x1="199.30" y1="609.40" x2="219.00" y2="609.40" stroke="#67ba22" stroke-width="2.1" />
<path d="M64.5 553.0 V547.5 H94.1 V557.2" stroke="#2a2a2a" stroke-width="1.05" fill="none" />
<text x="80.70" y="549.60" font-size="16.4" text-anchor="middle" fill="#1c1c1c" stroke="#1c1c1c" stroke-width="0.3" >****</text>
<path d="M122.9 566.9 V547.5 H151.7 V575.8" stroke="#2a2a2a" stroke-width="1.05" fill="none" />
<text x="138.70" y="549.60" font-size="16.4" text-anchor="middle" fill="#1c1c1c" stroke="#1c1c1c" stroke-width="0.3" >****</text>
<path d="M180.4 560.5 V547.5 H209.4 V572.0" stroke="#2a2a2a" stroke-width="1.05" fill="none" />
<text x="196.30" y="549.60" font-size="16.4" text-anchor="middle" fill="#1c1c1c" stroke="#1c1c1c" stroke-width="0.3" >****</text>
<text x="82.50" y="533.20" font-size="12.55" text-anchor="middle" fill="#1c1c1c" stroke="#1c1c1c" stroke-width="0.3" >Vehicle</text>
<text x="142.60" y="533.20" font-size="12.55" text-anchor="middle" fill="#1c1c1c" stroke="#1c1c1c" stroke-width="0.3" >Etoposide</text>
<text x="203.70" y="533.20" font-size="12.55" text-anchor="middle" fill="#1c1c1c" stroke="#1c1c1c" stroke-width="0.3" >Mitomycin</text>
<text x="70.20" y="660.80" font-size="12.7" text-anchor="end" fill="#1c1c1c" stroke="#1c1c1c" stroke-width="0.3" transform="rotate(-45 70.20 660.80)" >Parental</text>
<text x="98.80" y="657.70" font-size="12.7" text-anchor="end" font-style="italic" fill="#1c1c1c" stroke="#1c1c1c" stroke-width="0.3" transform="rotate(-45 98.80 657.70)" >HOXB13K13Am</text>
<text x="128.80" y="663.40" font-size="12.7" text-anchor="end" fill="#1c1c1c" stroke="#1c1c1c" stroke-width="0.3" transform="rotate(-45 128.80 663.40)" >Parental</text>
<text x="156.90" y="657.70" font-size="12.7" text-anchor="end" font-style="italic" fill="#1c1c1c" stroke="#1c1c1c" stroke-width="0.3" transform="rotate(-45 156.90 657.70)" >HOXB13K13Am</text>
<text x="186.10" y="663.80" font-size="12.7" text-anchor="end" fill="#1c1c1c" stroke="#1c1c1c" stroke-width="0.3" transform="rotate(-45 186.10 663.80)" >Parental</text>
<text x="216.30" y="658.30" font-size="12.7" text-anchor="end" font-style="italic" fill="#1c1c1c" stroke="#1c1c1c" stroke-width="0.3" transform="rotate(-45 216.30 658.30)" >HOXB13K13Am</text>
</g>
<g id="panelF">
<text x="272.30" y="482.70" font-size="21.6" fill="#111" stroke="#111" stroke-width="0.3" >F</text>
<text x="338.10" y="492.70" font-size="12.6" text-anchor="middle" fill="#1c1c1c" stroke="#1c1c1c" stroke-width="0.3" >C4-2B</text>
<line x1="286.70" y1="505.10" x2="286.70" y2="595.10" stroke="#3a3a3a" stroke-width="1.25" />
<line x1="282.50" y1="594.50" x2="286.70" y2="594.50" stroke="#3a3a3a" stroke-width="1.25" />
<text x="277.30" y="598.75" font-size="11.9" text-anchor="end" fill="#1c1c1c" stroke="#1c1c1c" stroke-width="0.3" >0</text>
<line x1="282.50" y1="576.74" x2="286.70" y2="576.74" stroke="#3a3a3a" stroke-width="1.25" />
<text x="277.30" y="580.99" font-size="11.9" text-anchor="end" fill="#1c1c1c" stroke="#1c1c1c" stroke-width="0.3" >20</text>
<line x1="282.50" y1="558.98" x2="286.70" y2="558.98" stroke="#3a3a3a" stroke-width="1.25" />
<text x="277.30" y="563.23" font-size="11.9" text-anchor="end" fill="#1c1c1c" stroke="#1c1c1c" stroke-width="0.3" >40</text>
<line x1="282.50" y1="541.22" x2="286.70" y2="541.22" stroke="#3a3a3a" stroke-width="1.25" />
<text x="277.30" y="545.47" font-size="11.9" text-anchor="end" fill="#1c1c1c" stroke="#1c1c1c" stroke-width="0.3" >60</text>
<line x1="282.50" y1="523.46" x2="286.70" y2="523.46" stroke="#3a3a3a" stroke-width="1.25" />
<text x="277.30" y="527.71" font-size="11.9" text-anchor="end" fill="#1c1c1c" stroke="#1c1c1c" stroke-width="0.3" >80</text>
<line x1="282.50" y1="505.70" x2="286.70" y2="505.70" stroke="#3a3a3a" stroke-width="1.25" />
<text x="277.30" y="509.95" font-size="11.9" text-anchor="end" fill="#1c1c1c" stroke="#1c1c1c" stroke-width="0.3" >100</text>
<rect x="293.80" y="505.43" width="16.20" height="13.00" fill="#0cb414" />
<rect x="293.80" y="518.13" width="16.20" height="34.04" fill="#ff0a14" />
<rect x="293.80" y="551.88" width="16.20" height="42.04" fill="#0a12f5" />
<rect x="293.80" y="593.61" width="16.20" height="1.19" fill="#c81edc" />
<rect x="316.40" y="506.94" width="16.20" height="37.68" fill="#0cb414" />
<rect x="316.40" y="544.33" width="16.20" height="34.49" fill="#ff0a14" />
<rect x="316.40" y="578.52" width="16.20" height="15.75" fill="#0a12f5" />
<rect x="316.40" y="593.97" width="16.20" height="0.83" fill="#c81edc" />
<rect x="339.00" y="505.70" width="16.20" height="62.90" fill="#0cb414" />
<rect x="339.00" y="568.30" width="16.20" height="17.62" fill="#ff0a14" />
<rect x="339.00" y="585.62" width="16.20" height="9.18" fill="#0a12f5" />
<rect x="361.50" y="506.94" width="16.20" height="46.56" fill="#0cb414" />
<rect x="361.50" y="553.21" width="16.20" height="17.17" fill="#ff0a14" />
<rect x="361.50" y="570.08" width="16.20" height="24.72" fill="#0a12f5" />
<line x1="282.50" y1="594.50" x2="384.80" y2="594.50" stroke="#3a3a3a" stroke-width="1.25" />
<text x="254.40" y="539.50" font-size="12.85" text-anchor="middle" fill="#1c1c1c" stroke="#1c1c1c" stroke-width="0.3" transform="rotate(-90 254.40 539.50)" >% cell cycle phase</text>
<line x1="296.40" y1="599.60" x2="332.50" y2="599.60" stroke="#3a3a3a" stroke-width="1.2" />
<line x1="302.00" y1="594.50" x2="302.00" y2="599.60" stroke="#3a3a3a" stroke-width="1.1" />
<line x1="324.50" y1="594.50" x2="324.50" y2="599.60" stroke="#3a3a3a" stroke-width="1.1" />
<text x="313.80" y="609.80" font-size="12.5" text-anchor="middle" fill="#1c1c1c" stroke="#1c1c1c" stroke-width="0.3" >0 h</text>
<line x1="339.10" y1="599.60" x2="375.80" y2="599.60" stroke="#3a3a3a" stroke-width="1.2" />
<line x1="347.10" y1="594.50" x2="347.10" y2="599.60" stroke="#3a3a3a" stroke-width="1.1" />
<line x1="369.60" y1="594.50" x2="369.60" y2="599.60" stroke="#3a3a3a" stroke-width="1.1" />
<text x="361.20" y="609.80" font-size="12.5" text-anchor="middle" fill="#1c1c1c" stroke="#1c1c1c" stroke-width="0.3" >4 h</text>
<text x="291.20" y="610.80" font-size="12.5" text-anchor="end" fill="#1c1c1c" stroke="#1c1c1c" stroke-width="0.3" >Etoposide</text>
<text x="305.80" y="627.50" font-size="12.6" text-anchor="end" fill="#1c1c1c" stroke="#1c1c1c" stroke-width="0.3" transform="rotate(-45 305.80 627.50)" >Parental</text>
<text x="334.20" y="622.00" font-size="12.7" text-anchor="end" font-style="italic" fill="#1c1c1c" stroke="#1c1c1c" stroke-width="0.3" transform="rotate(-45 334.20 622.00)" >HOXB13K13Am</text>
<text x="350.10" y="627.50" font-size="12.6" text-anchor="end" fill="#1c1c1c" stroke="#1c1c1c" stroke-width="0.3" transform="rotate(-45 350.10 627.50)" >Parental</text>
<text x="377.80" y="622.00" font-size="12.7" text-anchor="end" font-style="italic" fill="#1c1c1c" stroke="#1c1c1c" stroke-width="0.3" transform="rotate(-45 377.80 622.00)" >HOXB13K13Am</text>
<text x="500.00" y="492.70" font-size="12.0" text-anchor="middle" fill="#1c1c1c" stroke="#1c1c1c" stroke-width="0.3" >22Rv1</text>
<line x1="441.60" y1="506.30" x2="441.60" y2="595.00" stroke="#3a3a3a" stroke-width="1.25" />
<line x1="437.40" y1="594.40" x2="441.60" y2="594.40" stroke="#3a3a3a" stroke-width="1.25" />
<text x="437.40" y="598.65" font-size="11.9" text-anchor="end" fill="#1c1c1c" stroke="#1c1c1c" stroke-width="0.3" >0</text>
<line x1="437.40" y1="576.90" x2="441.60" y2="576.90" stroke="#3a3a3a" stroke-width="1.25" />
<text x="437.40" y="581.15" font-size="11.9" text-anchor="end" fill="#1c1c1c" stroke="#1c1c1c" stroke-width="0.3" >20</text>
<line x1="437.40" y1="559.40" x2="441.60" y2="559.40" stroke="#3a3a3a" stroke-width="1.25" />
<text x="437.40" y="563.65" font-size="11.9" text-anchor="end" fill="#1c1c1c" stroke="#1c1c1c" stroke-width="0.3" >40</text>
<line x1="437.40" y1="541.90" x2="441.60" y2="541.90" stroke="#3a3a3a" stroke-width="1.25" />
<text x="437.40" y="546.15" font-size="11.9" text-anchor="end" fill="#1c1c1c" stroke="#1c1c1c" stroke-width="0.3" >60</text>
<line x1="437.40" y1="524.40" x2="441.60" y2="524.40" stroke="#3a3a3a" stroke-width="1.25" />
<text x="437.40" y="528.65" font-size="11.9" text-anchor="end" fill="#1c1c1c" stroke="#1c1c1c" stroke-width="0.3" >80</text>
<line x1="437.40" y1="506.90" x2="441.60" y2="506.90" stroke="#3a3a3a" stroke-width="1.25" />
<text x="437.40" y="511.15" font-size="11.9" text-anchor="end" fill="#1c1c1c" stroke="#1c1c1c" stroke-width="0.3" >100</text>
<rect x="454.40" y="506.11" width="16.10" height="11.59" fill="#0cb414" />
<rect x="454.40" y="517.40" width="16.10" height="27.86" fill="#ff0a14" />
<rect x="454.40" y="544.96" width="16.10" height="47.99" fill="#0a12f5" />
<rect x="454.40" y="592.65" width="16.10" height="2.05" fill="#c81edc" />
<rect x="476.70" y="507.60" width="16.10" height="65.66" fill="#0cb414" />
<rect x="476.70" y="572.96" width="16.10" height="19.55" fill="#ff0a14" />
<rect x="476.70" y="592.21" width="16.10" height="2.14" fill="#0a12f5" />
<rect x="476.70" y="594.05" width="16.10" height="0.65" fill="#c81edc" />
<rect x="499.00" y="507.60" width="16.10" height="53.41" fill="#0cb414" />
<rect x="499.00" y="560.71" width="16.10" height="25.68" fill="#ff0a14" />
<rect x="499.00" y="586.09" width="16.10" height="8.61" fill="#0a12f5" />
<rect x="521.20" y="506.11" width="16.10" height="44.84" fill="#0cb414" />
<rect x="521.20" y="550.65" width="16.10" height="22.18" fill="#ff0a14" />
<rect x="521.20" y="572.52" width="16.10" height="22.18" fill="#0a12f5" />
<line x1="447.00" y1="594.40" x2="544.40" y2="594.40" stroke="#3a3a3a" stroke-width="1.25" />
<text x="413.40" y="539.50" font-size="12.65" text-anchor="middle" fill="#1c1c1c" stroke="#1c1c1c" stroke-width="0.3" transform="rotate(-90 413.40 539.50)" >% cell cycle phase</text>
<line x1="455.90" y1="599.40" x2="492.20" y2="599.40" stroke="#555" stroke-width="1.6" />
<line x1="462.40" y1="594.40" x2="462.40" y2="599.40" stroke="#3a3a3a" stroke-width="1.1" />
<line x1="484.70" y1="594.40" x2="484.70" y2="599.40" stroke="#3a3a3a" stroke-width="1.1" />
<text x="473.30" y="609.80" font-size="12.5" text-anchor="middle" fill="#1c1c1c" stroke="#1c1c1c" stroke-width="0.3" >0 h</text>
<line x1="499.50" y1="599.40" x2="536.40" y2="599.40" stroke="#555" stroke-width="1.6" />
<line x1="507.00" y1="594.40" x2="507.00" y2="599.40" stroke="#3a3a3a" stroke-width="1.1" />
<line x1="529.20" y1="594.40" x2="529.20" y2="599.40" stroke="#3a3a3a" stroke-width="1.1" />
<text x="522.20" y="609.80" font-size="12.5" text-anchor="middle" fill="#1c1c1c" stroke="#1c1c1c" stroke-width="0.3" >4 h</text>
<text x="450.60" y="610.80" font-size="12.5" text-anchor="end" fill="#1c1c1c" stroke="#1c1c1c" stroke-width="0.3" >Etoposide</text>
<text x="464.30" y="627.50" font-size="12.6" text-anchor="end" fill="#1c1c1c" stroke="#1c1c1c" stroke-width="0.3" transform="rotate(-45 464.30 627.50)" >Parental</text>
<text x="491.90" y="622.00" font-size="12.7" text-anchor="end" font-style="italic" fill="#1c1c1c" stroke="#1c1c1c" stroke-width="0.3" transform="rotate(-45 491.90 622.00)" >HOXB13K13Am</text>
<text x="510.10" y="627.50" font-size="12.6" text-anchor="end" fill="#1c1c1c" stroke="#1c1c1c" stroke-width="0.3" transform="rotate(-45 510.10 627.50)" >Parental</text>
<text x="537.00" y="622.00" font-size="12.7" text-anchor="end" font-style="italic" fill="#1c1c1c" stroke="#1c1c1c" stroke-width="0.3" transform="rotate(-45 537.00 622.00)" >HOXB13K13Am</text>
<rect x="309.20" y="702.60" width="18.00" height="9.70" fill="#c81ee6" />
<text x="330.90" y="711.30" font-size="12.8" fill="#1c1c1c" stroke="#1c1c1c" stroke-width="0.3" >Sub G1</text>
<rect x="374.60" y="702.60" width="17.40" height="9.70" fill="#0a12f5" />
<text x="395.80" y="711.30" font-size="12.8" fill="#1c1c1c" stroke="#1c1c1c" stroke-width="0.3" >G1</text>
<rect x="418.20" y="702.60" width="17.50" height="9.70" fill="#ff0a14" />
<text x="439.20" y="711.30" font-size="12.8" fill="#1c1c1c" stroke="#1c1c1c" stroke-width="0.3" >S</text>
<rect x="456.20" y="702.60" width="17.60" height="9.70" fill="#0cc450" />
<text x="477.20" y="711.30" font-size="12.8" fill="#1c1c1c" stroke="#1c1c1c" stroke-width="0.3" >G2</text>
</g>
</svg>
</div>
</body></html>
